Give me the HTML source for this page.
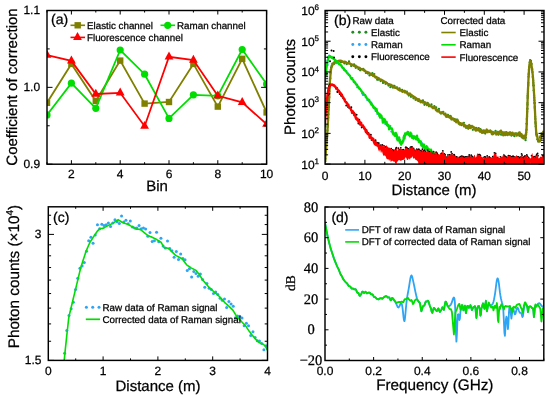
<!DOCTYPE html>
<html><head><meta charset="utf-8"><style>
html,body{margin:0;padding:0;background:#fff;width:550px;height:398px;overflow:hidden}
svg{display:block} text{text-rendering:geometricPrecision;stroke:#000;stroke-width:0.25px}
</style></head><body>
<svg width="550" height="398" viewBox="0 0 550 398">
<svg x="0" y="0" width="550" height="398" overflow="visible">
<clipPath id="ca"><rect x="47" y="10.5" width="219.60000000000002" height="153.7"/></clipPath>
<g clip-path="url(#ca)">
<polyline points="47,102.8 71.4,63.9 95.8,101 120.2,60.6 144.6,103.6 169,102 193.4,63.9 217.8,106.6 242.2,58.8 266.6,112.4" fill="none" stroke="#808000" stroke-width="1.8"/>
<rect x="43.8" y="99.6" width="6.4" height="6.4" fill="#808000"/>
<rect x="68.2" y="60.7" width="6.4" height="6.4" fill="#808000"/>
<rect x="92.6" y="97.8" width="6.4" height="6.4" fill="#808000"/>
<rect x="117" y="57.4" width="6.4" height="6.4" fill="#808000"/>
<rect x="141.4" y="100.4" width="6.4" height="6.4" fill="#808000"/>
<rect x="165.8" y="98.8" width="6.4" height="6.4" fill="#808000"/>
<rect x="190.2" y="60.7" width="6.4" height="6.4" fill="#808000"/>
<rect x="214.6" y="103.4" width="6.4" height="6.4" fill="#808000"/>
<rect x="239" y="55.6" width="6.4" height="6.4" fill="#808000"/>
<rect x="263.4" y="109.2" width="6.4" height="6.4" fill="#808000"/>
<polyline points="47,114.9 71.4,83.2 95.8,108.3 120.2,50 144.6,74.2 169,118.4 193.4,94.8 217.8,95.8 242.2,49.5 266.6,84" fill="none" stroke="#00dd00" stroke-width="1.8"/>
<circle cx="47" cy="114.9" r="3.6" fill="#00dd00"/>
<circle cx="71.4" cy="83.2" r="3.6" fill="#00dd00"/>
<circle cx="95.8" cy="108.3" r="3.6" fill="#00dd00"/>
<circle cx="120.2" cy="50" r="3.6" fill="#00dd00"/>
<circle cx="144.6" cy="74.2" r="3.6" fill="#00dd00"/>
<circle cx="169" cy="118.4" r="3.6" fill="#00dd00"/>
<circle cx="193.4" cy="94.8" r="3.6" fill="#00dd00"/>
<circle cx="217.8" cy="95.8" r="3.6" fill="#00dd00"/>
<circle cx="242.2" cy="49.5" r="3.6" fill="#00dd00"/>
<circle cx="266.6" cy="84" r="3.6" fill="#00dd00"/>
<polyline points="47,55 71.4,60.9 95.8,94 120.2,92.8 144.6,126.2 169,56.8 193.4,60 217.8,95.8 242.2,102.3 266.6,124.2" fill="none" stroke="#ff0000" stroke-width="1.8"/>
<polygon points="47,49.72 51.4,57.64 42.6,57.64" fill="#ff0000"/>
<polygon points="71.4,55.62 75.8,63.54 67,63.54" fill="#ff0000"/>
<polygon points="95.8,88.72 100.2,96.64 91.4,96.64" fill="#ff0000"/>
<polygon points="120.2,87.52 124.6,95.44 115.8,95.44" fill="#ff0000"/>
<polygon points="144.6,120.92 149,128.84 140.2,128.84" fill="#ff0000"/>
<polygon points="169,51.52 173.4,59.44 164.6,59.44" fill="#ff0000"/>
<polygon points="193.4,54.72 197.8,62.64 189,62.64" fill="#ff0000"/>
<polygon points="217.8,90.52 222.2,98.44 213.4,98.44" fill="#ff0000"/>
<polygon points="242.2,97.02 246.6,104.94 237.8,104.94" fill="#ff0000"/>
<polygon points="266.6,118.92 271,126.84 262.2,126.84" fill="#ff0000"/>
</g>
<rect x="47" y="10.5" width="219.6" height="153.7" fill="none" stroke="#000" stroke-width="1.45"/>
<line x1="71.4" y1="164.2" x2="71.4" y2="160.2" stroke="#000" stroke-width="1"/>
<line x1="71.4" y1="10.5" x2="71.4" y2="14.5" stroke="#000" stroke-width="1"/>
<line x1="120.2" y1="164.2" x2="120.2" y2="160.2" stroke="#000" stroke-width="1"/>
<line x1="120.2" y1="10.5" x2="120.2" y2="14.5" stroke="#000" stroke-width="1"/>
<line x1="169" y1="164.2" x2="169" y2="160.2" stroke="#000" stroke-width="1"/>
<line x1="169" y1="10.5" x2="169" y2="14.5" stroke="#000" stroke-width="1"/>
<line x1="217.8" y1="164.2" x2="217.8" y2="160.2" stroke="#000" stroke-width="1"/>
<line x1="217.8" y1="10.5" x2="217.8" y2="14.5" stroke="#000" stroke-width="1"/>
<line x1="266.6" y1="164.2" x2="266.6" y2="160.2" stroke="#000" stroke-width="1"/>
<line x1="266.6" y1="10.5" x2="266.6" y2="14.5" stroke="#000" stroke-width="1"/>
<line x1="47" y1="164.2" x2="47" y2="162.2" stroke="#000" stroke-width="1"/>
<line x1="47" y1="10.5" x2="47" y2="12.5" stroke="#000" stroke-width="1"/>
<line x1="95.8" y1="164.2" x2="95.8" y2="162.2" stroke="#000" stroke-width="1"/>
<line x1="95.8" y1="10.5" x2="95.8" y2="12.5" stroke="#000" stroke-width="1"/>
<line x1="144.6" y1="164.2" x2="144.6" y2="162.2" stroke="#000" stroke-width="1"/>
<line x1="144.6" y1="10.5" x2="144.6" y2="12.5" stroke="#000" stroke-width="1"/>
<line x1="193.4" y1="164.2" x2="193.4" y2="162.2" stroke="#000" stroke-width="1"/>
<line x1="193.4" y1="10.5" x2="193.4" y2="12.5" stroke="#000" stroke-width="1"/>
<line x1="242.2" y1="164.2" x2="242.2" y2="162.2" stroke="#000" stroke-width="1"/>
<line x1="242.2" y1="10.5" x2="242.2" y2="12.5" stroke="#000" stroke-width="1"/>
<line x1="47" y1="164.2" x2="52.5" y2="164.2" stroke="#000" stroke-width="1"/>
<line x1="266.6" y1="164.2" x2="261.1" y2="164.2" stroke="#000" stroke-width="1"/>
<line x1="47" y1="87.35" x2="52.5" y2="87.35" stroke="#000" stroke-width="1"/>
<line x1="266.6" y1="87.35" x2="261.1" y2="87.35" stroke="#000" stroke-width="1"/>
<line x1="47" y1="10.5" x2="52.5" y2="10.5" stroke="#000" stroke-width="1"/>
<line x1="266.6" y1="10.5" x2="261.1" y2="10.5" stroke="#000" stroke-width="1"/>
<line x1="47" y1="125.78" x2="49.7" y2="125.78" stroke="#000" stroke-width="1"/>
<line x1="266.6" y1="125.78" x2="263.9" y2="125.78" stroke="#000" stroke-width="1"/>
<line x1="47" y1="48.92" x2="49.7" y2="48.92" stroke="#000" stroke-width="1"/>
<line x1="266.6" y1="48.92" x2="263.9" y2="48.92" stroke="#000" stroke-width="1"/>
<text transform="translate(40.1 167.8) scale(1 1.0)" font-size="12" text-anchor="end" font-family="'Liberation Sans', Arial, sans-serif">0.9</text>
<text transform="translate(40.1 90.95) scale(1 1.0)" font-size="12" text-anchor="end" font-family="'Liberation Sans', Arial, sans-serif">1.0</text>
<text transform="translate(40.1 14.1) scale(1 1.0)" font-size="12" text-anchor="end" font-family="'Liberation Sans', Arial, sans-serif">1.1</text>
<text transform="translate(71.4 177.9) scale(1 1.0)" font-size="12" text-anchor="middle" font-family="'Liberation Sans', Arial, sans-serif">2</text>
<text transform="translate(120.2 177.9) scale(1 1.0)" font-size="12" text-anchor="middle" font-family="'Liberation Sans', Arial, sans-serif">4</text>
<text transform="translate(169 177.9) scale(1 1.0)" font-size="12" text-anchor="middle" font-family="'Liberation Sans', Arial, sans-serif">6</text>
<text transform="translate(217.8 177.9) scale(1 1.0)" font-size="12" text-anchor="middle" font-family="'Liberation Sans', Arial, sans-serif">8</text>
<text transform="translate(266.6 177.9) scale(1 1.0)" font-size="12" text-anchor="middle" font-family="'Liberation Sans', Arial, sans-serif">10</text>
<text transform="translate(157.1 191) scale(1 1.0)" font-size="15" text-anchor="middle" font-family="'Liberation Sans', Arial, sans-serif">Bin</text>
<text x="17.2" y="87" font-size="15" text-anchor="middle" font-family="'Liberation Sans', Arial, sans-serif" transform="rotate(-90 17.2 87)">Coefficient of correction</text>
<text transform="translate(51 24.3) scale(1 1.0)" font-size="14" text-anchor="start" font-family="'Liberation Sans', Arial, sans-serif">(a)</text>
<line x1="70.5" y1="25.3" x2="85" y2="25.3" stroke="#808000" stroke-width="1.6"/>
<rect x="74.5" y="22.1" width="6.4" height="6.4" fill="#808000"/>
<text transform="translate(87 28.8) scale(1 1.0)" font-size="9.8" text-anchor="start" font-family="'Liberation Sans', Arial, sans-serif">Elastic channel</text>
<line x1="160.5" y1="25.3" x2="175" y2="25.3" stroke="#00dd00" stroke-width="1.6"/>
<circle cx="167.7" cy="25.3" r="3.6" fill="#00dd00"/>
<text transform="translate(177 28.8) scale(1 1.0)" font-size="9.8" text-anchor="start" font-family="'Liberation Sans', Arial, sans-serif">Raman channel</text>
<line x1="70.5" y1="37.4" x2="85" y2="37.4" stroke="#ff0000" stroke-width="1.6"/>
<polygon points="77.5,32.12 81.9,40.04 73.1,40.04" fill="#ff0000"/>
<text transform="translate(87 40.9) scale(1 1.0)" font-size="9.8" text-anchor="start" font-family="'Liberation Sans', Arial, sans-serif">Fluorescence channel</text>
<clipPath id="cb"><rect x="325.1" y="10.5" width="218.89999999999998" height="153.6"/></clipPath>
<g clip-path="url(#cb)">
<circle cx="325.27" cy="161.41" r="1.15" fill="#1a8a1a"/><circle cx="325.43" cy="158.87" r="1.15" fill="#1a8a1a"/><circle cx="325.62" cy="153.65" r="1.15" fill="#1a8a1a"/><circle cx="325.75" cy="151.92" r="1.15" fill="#1a8a1a"/><circle cx="325.98" cy="151.23" r="1.15" fill="#1a8a1a"/><circle cx="326.2" cy="148.33" r="1.15" fill="#1a8a1a"/><circle cx="326.34" cy="143.51" r="1.15" fill="#1a8a1a"/><circle cx="326.51" cy="140.81" r="1.15" fill="#1a8a1a"/><circle cx="326.8" cy="137.58" r="1.15" fill="#1a8a1a"/><circle cx="326.97" cy="137.99" r="1.15" fill="#1a8a1a"/><circle cx="327.13" cy="135.94" r="1.15" fill="#1a8a1a"/><circle cx="327.38" cy="130.42" r="1.15" fill="#1a8a1a"/><circle cx="327.56" cy="126.94" r="1.15" fill="#1a8a1a"/><circle cx="327.65" cy="125.16" r="1.15" fill="#1a8a1a"/><circle cx="327.83" cy="125.17" r="1.15" fill="#1a8a1a"/><circle cx="327.96" cy="119.54" r="1.15" fill="#1a8a1a"/><circle cx="328.06" cy="120.78" r="1.15" fill="#1a8a1a"/><circle cx="328.19" cy="117.87" r="1.15" fill="#1a8a1a"/><circle cx="328.38" cy="114.3" r="1.15" fill="#1a8a1a"/><circle cx="328.47" cy="109.96" r="1.15" fill="#1a8a1a"/><circle cx="328.62" cy="107.41" r="1.15" fill="#1a8a1a"/><circle cx="328.76" cy="106.97" r="1.15" fill="#1a8a1a"/><circle cx="328.87" cy="104.72" r="1.15" fill="#1a8a1a"/><circle cx="328.96" cy="102.52" r="1.15" fill="#1a8a1a"/><circle cx="329.09" cy="96.44" r="1.15" fill="#1a8a1a"/><circle cx="329.22" cy="97.56" r="1.15" fill="#1a8a1a"/><circle cx="329.35" cy="91.14" r="1.15" fill="#1a8a1a"/><circle cx="329.45" cy="88.71" r="1.15" fill="#1a8a1a"/><circle cx="329.56" cy="86.07" r="1.15" fill="#1a8a1a"/><circle cx="329.66" cy="84.23" r="1.15" fill="#1a8a1a"/><circle cx="329.89" cy="83.28" r="1.15" fill="#1a8a1a"/><circle cx="330.03" cy="78.98" r="1.15" fill="#1a8a1a"/><circle cx="330.3" cy="78.37" r="1.15" fill="#1a8a1a"/><circle cx="330.48" cy="72.92" r="1.15" fill="#1a8a1a"/><circle cx="330.69" cy="70.11" r="1.15" fill="#1a8a1a"/><circle cx="331.07" cy="67.44" r="1.15" fill="#1a8a1a"/><circle cx="331.7" cy="65.54" r="1.15" fill="#1a8a1a"/><circle cx="332.38" cy="63.72" r="1.15" fill="#1a8a1a"/><circle cx="334.23" cy="63.76" r="1.15" fill="#1a8a1a"/><circle cx="336.04" cy="62.78" r="1.15" fill="#1a8a1a"/><circle cx="338.24" cy="62.51" r="1.15" fill="#1a8a1a"/><circle cx="341.05" cy="62.33" r="1.15" fill="#1a8a1a"/><circle cx="344.47" cy="63.42" r="1.15" fill="#1a8a1a"/><circle cx="346.69" cy="64.05" r="1.15" fill="#1a8a1a"/><circle cx="349.01" cy="61.5" r="1.15" fill="#1a8a1a"/><circle cx="351.2" cy="66.09" r="1.15" fill="#1a8a1a"/><circle cx="354.05" cy="64.45" r="1.15" fill="#1a8a1a"/><circle cx="355.76" cy="67.73" r="1.15" fill="#1a8a1a"/><circle cx="358.55" cy="69.02" r="1.15" fill="#1a8a1a"/><circle cx="360.15" cy="70.35" r="1.15" fill="#1a8a1a"/><circle cx="363.21" cy="68.96" r="1.15" fill="#1a8a1a"/><circle cx="365.92" cy="72.92" r="1.15" fill="#1a8a1a"/><circle cx="367.94" cy="73.6" r="1.15" fill="#1a8a1a"/><circle cx="369.53" cy="75.44" r="1.15" fill="#1a8a1a"/><circle cx="372.35" cy="73.25" r="1.15" fill="#1a8a1a"/><circle cx="374.27" cy="74.07" r="1.15" fill="#1a8a1a"/><circle cx="377.18" cy="79.63" r="1.15" fill="#1a8a1a"/><circle cx="378.4" cy="79.72" r="1.15" fill="#1a8a1a"/><circle cx="380.64" cy="81.12" r="1.15" fill="#1a8a1a"/><circle cx="383.01" cy="82.97" r="1.15" fill="#1a8a1a"/><circle cx="385.57" cy="83.78" r="1.15" fill="#1a8a1a"/><circle cx="388.46" cy="85.52" r="1.15" fill="#1a8a1a"/><circle cx="390.39" cy="87.21" r="1.15" fill="#1a8a1a"/><circle cx="392.83" cy="87.6" r="1.15" fill="#1a8a1a"/><circle cx="394.43" cy="85.95" r="1.15" fill="#1a8a1a"/><circle cx="396.91" cy="87.34" r="1.15" fill="#1a8a1a"/><circle cx="399.48" cy="88.49" r="1.15" fill="#1a8a1a"/><circle cx="402.13" cy="89.8" r="1.15" fill="#1a8a1a"/><circle cx="404.65" cy="90.81" r="1.15" fill="#1a8a1a"/><circle cx="406.81" cy="91.71" r="1.15" fill="#1a8a1a"/><circle cx="408.83" cy="95.6" r="1.15" fill="#1a8a1a"/><circle cx="411.01" cy="96.76" r="1.15" fill="#1a8a1a"/><circle cx="413.5" cy="98.33" r="1.15" fill="#1a8a1a"/><circle cx="415.54" cy="99.73" r="1.15" fill="#1a8a1a"/><circle cx="418.32" cy="101.05" r="1.15" fill="#1a8a1a"/><circle cx="420.72" cy="102.36" r="1.15" fill="#1a8a1a"/><circle cx="422.94" cy="100.49" r="1.15" fill="#1a8a1a"/><circle cx="424.47" cy="104.76" r="1.15" fill="#1a8a1a"/><circle cx="427.57" cy="102.93" r="1.15" fill="#1a8a1a"/><circle cx="429" cy="106.34" r="1.15" fill="#1a8a1a"/><circle cx="431.46" cy="104.39" r="1.15" fill="#1a8a1a"/><circle cx="434.33" cy="106.19" r="1.15" fill="#1a8a1a"/><circle cx="436.14" cy="107.5" r="1.15" fill="#1a8a1a"/><circle cx="438.93" cy="108.94" r="1.15" fill="#1a8a1a"/><circle cx="441" cy="113.52" r="1.15" fill="#1a8a1a"/><circle cx="443.18" cy="111.86" r="1.15" fill="#1a8a1a"/><circle cx="445.37" cy="113.54" r="1.15" fill="#1a8a1a"/><circle cx="447.95" cy="115.02" r="1.15" fill="#1a8a1a"/><circle cx="450.09" cy="115.86" r="1.15" fill="#1a8a1a"/><circle cx="451.43" cy="119.45" r="1.15" fill="#1a8a1a"/><circle cx="454.73" cy="119.05" r="1.15" fill="#1a8a1a"/><circle cx="456.38" cy="119.54" r="1.15" fill="#1a8a1a"/><circle cx="458.54" cy="123.57" r="1.15" fill="#1a8a1a"/><circle cx="461.54" cy="125.21" r="1.15" fill="#1a8a1a"/><circle cx="463.92" cy="122.84" r="1.15" fill="#1a8a1a"/><circle cx="466.08" cy="127.74" r="1.15" fill="#1a8a1a"/><circle cx="468.41" cy="128.57" r="1.15" fill="#1a8a1a"/><circle cx="470.02" cy="125.78" r="1.15" fill="#1a8a1a"/><circle cx="472.83" cy="129.83" r="1.15" fill="#1a8a1a"/><circle cx="475.99" cy="127.82" r="1.15" fill="#1a8a1a"/><circle cx="478.71" cy="128.22" r="1.15" fill="#1a8a1a"/><circle cx="480.33" cy="129.15" r="1.15" fill="#1a8a1a"/><circle cx="483.49" cy="132.48" r="1.15" fill="#1a8a1a"/><circle cx="485.21" cy="133.49" r="1.15" fill="#1a8a1a"/><circle cx="488.57" cy="130.88" r="1.15" fill="#1a8a1a"/><circle cx="490.62" cy="131.41" r="1.15" fill="#1a8a1a"/><circle cx="492.84" cy="134.31" r="1.15" fill="#1a8a1a"/><circle cx="495.56" cy="130.94" r="1.15" fill="#1a8a1a"/><circle cx="498.65" cy="134.49" r="1.15" fill="#1a8a1a"/><circle cx="501.12" cy="134.68" r="1.15" fill="#1a8a1a"/><circle cx="503.99" cy="132.49" r="1.15" fill="#1a8a1a"/><circle cx="506.15" cy="132.05" r="1.15" fill="#1a8a1a"/><circle cx="509.07" cy="134.63" r="1.15" fill="#1a8a1a"/><circle cx="511.36" cy="135.5" r="1.15" fill="#1a8a1a"/><circle cx="514.41" cy="136.21" r="1.15" fill="#1a8a1a"/><circle cx="516.02" cy="133.28" r="1.15" fill="#1a8a1a"/><circle cx="519.37" cy="135.76" r="1.15" fill="#1a8a1a"/><circle cx="521.69" cy="137.3" r="1.15" fill="#1a8a1a"/><circle cx="523.33" cy="138.31" r="1.15" fill="#1a8a1a"/><circle cx="525.56" cy="140.21" r="1.15" fill="#1a8a1a"/><circle cx="525.87" cy="137.86" r="1.15" fill="#1a8a1a"/><circle cx="526.15" cy="134.49" r="1.15" fill="#1a8a1a"/><circle cx="526.29" cy="132.85" r="1.15" fill="#1a8a1a"/><circle cx="526.51" cy="129.65" r="1.15" fill="#1a8a1a"/><circle cx="526.69" cy="123.79" r="1.15" fill="#1a8a1a"/><circle cx="526.79" cy="123.75" r="1.15" fill="#1a8a1a"/><circle cx="526.87" cy="118.82" r="1.15" fill="#1a8a1a"/><circle cx="526.95" cy="119.62" r="1.15" fill="#1a8a1a"/><circle cx="527.06" cy="116.31" r="1.15" fill="#1a8a1a"/><circle cx="527.14" cy="111.69" r="1.15" fill="#1a8a1a"/><circle cx="527.24" cy="108.59" r="1.15" fill="#1a8a1a"/><circle cx="527.34" cy="109.1" r="1.15" fill="#1a8a1a"/><circle cx="527.44" cy="103.05" r="1.15" fill="#1a8a1a"/><circle cx="527.49" cy="104.87" r="1.15" fill="#1a8a1a"/><circle cx="527.62" cy="98.12" r="1.15" fill="#1a8a1a"/><circle cx="527.73" cy="95.44" r="1.15" fill="#1a8a1a"/><circle cx="527.81" cy="96.43" r="1.15" fill="#1a8a1a"/><circle cx="527.91" cy="93.57" r="1.15" fill="#1a8a1a"/><circle cx="528.03" cy="91.16" r="1.15" fill="#1a8a1a"/><circle cx="528.1" cy="86.09" r="1.15" fill="#1a8a1a"/><circle cx="528.25" cy="84.94" r="1.15" fill="#1a8a1a"/><circle cx="528.34" cy="82.9" r="1.15" fill="#1a8a1a"/><circle cx="528.48" cy="76.85" r="1.15" fill="#1a8a1a"/><circle cx="528.65" cy="74.7" r="1.15" fill="#1a8a1a"/><circle cx="528.76" cy="73.32" r="1.15" fill="#1a8a1a"/><circle cx="528.94" cy="70.01" r="1.15" fill="#1a8a1a"/><circle cx="529.12" cy="67.47" r="1.15" fill="#1a8a1a"/><circle cx="529.37" cy="67.19" r="1.15" fill="#1a8a1a"/><circle cx="529.7" cy="62.4" r="1.15" fill="#1a8a1a"/><circle cx="530.13" cy="60.07" r="1.15" fill="#1a8a1a"/><circle cx="530.96" cy="60.98" r="1.15" fill="#1a8a1a"/><circle cx="531.56" cy="64.02" r="1.15" fill="#1a8a1a"/><circle cx="532.02" cy="69.9" r="1.15" fill="#1a8a1a"/><circle cx="532.22" cy="69.03" r="1.15" fill="#1a8a1a"/><circle cx="532.55" cy="72.15" r="1.15" fill="#1a8a1a"/><circle cx="532.76" cy="76.95" r="1.15" fill="#1a8a1a"/><circle cx="533.11" cy="80.54" r="1.15" fill="#1a8a1a"/><circle cx="533.29" cy="82.89" r="1.15" fill="#1a8a1a"/><circle cx="533.4" cy="85.15" r="1.15" fill="#1a8a1a"/><circle cx="533.62" cy="85.7" r="1.15" fill="#1a8a1a"/><circle cx="533.72" cy="90.31" r="1.15" fill="#1a8a1a"/><circle cx="533.9" cy="90.51" r="1.15" fill="#1a8a1a"/><circle cx="534.03" cy="95.32" r="1.15" fill="#1a8a1a"/><circle cx="534.19" cy="97.76" r="1.15" fill="#1a8a1a"/><circle cx="534.32" cy="100.32" r="1.15" fill="#1a8a1a"/><circle cx="534.48" cy="102.87" r="1.15" fill="#1a8a1a"/><circle cx="534.62" cy="103.21" r="1.15" fill="#1a8a1a"/><circle cx="534.72" cy="107.9" r="1.15" fill="#1a8a1a"/><circle cx="534.85" cy="106.54" r="1.15" fill="#1a8a1a"/><circle cx="534.98" cy="110.12" r="1.15" fill="#1a8a1a"/><circle cx="535.17" cy="116.83" r="1.15" fill="#1a8a1a"/><circle cx="535.27" cy="118.91" r="1.15" fill="#1a8a1a"/><circle cx="535.44" cy="122.23" r="1.15" fill="#1a8a1a"/><circle cx="535.59" cy="123.8" r="1.15" fill="#1a8a1a"/><circle cx="535.78" cy="126.51" r="1.15" fill="#1a8a1a"/><circle cx="535.95" cy="126.14" r="1.15" fill="#1a8a1a"/><circle cx="536.17" cy="132.57" r="1.15" fill="#1a8a1a"/><circle cx="536.33" cy="134.01" r="1.15" fill="#1a8a1a"/><circle cx="536.83" cy="134.53" r="1.15" fill="#1a8a1a"/><circle cx="537.28" cy="139.31" r="1.15" fill="#1a8a1a"/><circle cx="538.24" cy="141.45" r="1.15" fill="#1a8a1a"/><circle cx="539.84" cy="137.46" r="1.15" fill="#1a8a1a"/><circle cx="540.61" cy="135.95" r="1.15" fill="#1a8a1a"/><circle cx="541.5" cy="133.34" r="1.15" fill="#1a8a1a"/><circle cx="543.45" cy="134.74" r="1.15" fill="#1a8a1a"/>
<polyline points="325.2,161.2 325.45,157.64 325.7,153.75 325.95,150.16 326.2,146.72 326.45,143.64 326.7,140.37 326.95,137.14 327.2,134.07 327.45,130.76 327.7,126.3 327.95,121.32 328.2,116.48 328.45,111.49 328.7,106.91 328.95,101.61 329.2,95.95 329.45,90.01 329.7,84.26 329.95,81.18 330.2,78.13 330.45,75.27 330.7,72.32 330.95,70.08 331.2,68.6 331.45,67.48 331.7,66.98 331.95,66.45 332.2,65.62 332.45,65.17 332.7,64.02 332.95,63.7 333.2,63.48 333.45,63.59 333.7,63.58 333.95,62.9 334.2,62.26 334.45,61.96 334.7,61.87 334.95,61.73 335.2,61.36 335.45,61.27 335.7,61.26 335.95,61.3 336.2,61.27 336.45,61.39 336.7,61.25 336.95,61.29 337.2,61.39 337.45,61.48 337.7,61.15 337.95,61.06 338.2,60.89 338.45,61.21 338.7,60.87 338.95,61.14 339.2,60.97 339.45,60.93 339.7,60.69 339.95,60.71 340.2,61 340.45,60.87 340.7,60.64 340.95,60.7 341.2,60.87 341.45,61.2 341.7,61.38 341.95,61.22 342.2,61.29 342.45,61.45 342.7,61.79 342.95,61.65 343.2,61.63 343.45,61.81 343.7,62.22 343.95,62.07 344.2,61.79 344.45,61.65 344.7,61.7 344.95,62.23 345.2,62.37 345.45,62.21 345.7,61.89 345.95,62.11 346.2,62.66 346.45,62.85 346.7,62.75 346.95,62.78 347.2,63.09 347.45,63.36 347.7,63.4 347.95,63.36 348.2,63.2 348.45,63.45 348.7,63.08 348.95,63.18 349.2,63.05 349.45,63.3 349.7,63.48 349.95,63.41 350.2,64.01 350.45,64.03 350.7,64.42 350.95,64.62 351.2,64.84 351.45,64.63 351.7,64.15 351.95,64.56 352.2,64.85 352.45,65.14 352.7,64.91 352.95,65 353.2,65.46 353.45,65.55 353.7,65.71 353.95,65.48 354.2,65.69 354.45,65.58 354.7,66 354.95,66.34 355.2,66.35 355.45,65.77 355.7,65.69 355.95,66.71 356.2,67.15 356.45,66.85 356.7,66.53 356.95,66.68 357.2,66.96 357.45,66.86 357.7,67.29 357.95,67.43 358.2,67.69 358.45,67.66 358.7,67.68 358.95,67.67 359.2,67.62 359.45,67.94 359.7,67.88 359.95,67.97 360.2,68.43 360.45,68.8 360.7,69.16 360.95,69.07 361.2,69.11 361.45,69.19 361.7,69.3 361.95,69.59 362.2,69.49 362.45,69.71 362.7,69.64 362.95,69.78 363.2,69.5 363.45,69.67 363.7,70.43 363.95,70.49 364.2,70.75 364.45,69.98 364.7,70.38 364.95,70.68 365.2,71.26 365.45,71.23 365.7,71.2 365.95,71.55 366.2,71.98 366.45,72.53 366.7,72.54 366.95,72.36 367.2,71.98 367.45,72.03 367.7,72.33 367.95,72.48 368.2,72.66 368.45,72.35 368.7,72.69 368.95,72.63 369.2,72.87 369.45,72.95 369.7,73.54 369.95,74.08 370.2,74.11 370.45,73.7 370.7,74.44 370.95,74.77 371.2,74.87 371.45,74.11 371.7,74.06 371.95,74.11 372.2,74.49 372.45,74.51 372.7,75.36 372.95,75.71 373.2,75.29 373.45,75.14 373.7,74.63 373.95,75.75 374.2,75.93 374.45,76.64 374.7,76.23 374.95,76.81 375.2,77.33 375.45,77.49 375.7,77.26 375.95,76.72 376.2,77.14 376.45,76.86 376.7,77.67 376.95,77.57 377.2,77.98 377.45,77.77 377.7,78 377.95,78.17 378.2,78.04 378.45,78.32 378.7,78.23 378.95,78.41 379.2,78.54 379.45,78.91 379.7,79.19 379.95,79.32 380.2,79.75 380.45,79.78 380.7,79.96 380.95,79.72 381.2,79.81 381.45,79.64 381.7,80.09 381.95,80.07 382.2,80.34 382.45,80.44 382.7,80.99 382.95,81.22 383.2,80.71 383.45,80.86 383.7,81.17 383.95,81.47 384.2,81.71 384.45,81.58 384.7,81.8 384.95,81.75 385.2,82.03 385.45,82.53 385.7,82.2 385.95,82.89 386.2,82.8 386.45,82.96 386.7,82.76 386.95,82.97 387.2,83.62 387.45,83.49 387.7,83.71 387.95,83.83 388.2,83.85 388.45,84.2 388.7,84.13 388.95,84.24 389.2,84.21 389.45,84.6 389.7,84.92 389.95,84.79 390.2,84.97 390.45,84.66 390.7,84.73 390.95,84.69 391.2,84.93 391.45,85.36 391.7,85.45 391.95,86.22 392.2,86.08 392.45,86.04 392.7,86 392.95,85.68 393.2,86.88 393.45,86.71 393.7,87.33 393.95,86.81 394.2,87.13 394.45,86.95 394.7,87 394.95,87.39 395.2,87.9 395.45,87.76 395.7,87.78 395.95,87.77 396.2,88.1 396.45,88.15 396.7,88.34 396.95,87.92 397.2,87.92 397.45,87.99 397.7,88.82 397.95,89.06 398.2,89.67 398.45,89.54 398.7,89.7 398.95,89.36 399.2,89.64 399.45,90.22 399.7,90.49 399.95,90.24 400.2,89.77 400.45,89.83 400.7,89.91 400.95,90.11 401.2,90.28 401.45,91.04 401.7,91.11 401.95,91.41 402.2,91.38 402.45,91.4 402.7,91.85 402.95,91.48 403.2,91.44 403.45,91 403.7,91.27 403.95,91.2 404.2,91.41 404.45,91.04 404.7,92.02 404.95,92.12 405.2,92.55 405.45,91.94 405.7,91.96 405.95,92.2 406.2,92.27 406.45,92.22 406.7,92.34 406.95,92.62 407.2,93.31 407.45,93.84 407.7,94.13 407.95,94.09 408.2,93.42 408.45,93.73 408.7,93.68 408.95,94.38 409.2,94.8 409.45,94.19 409.7,94.23 409.95,93.48 410.2,94.54 410.45,94.19 410.7,94.53 410.95,94.56 411.2,95.34 411.45,95.67 411.7,95.5 411.95,95.28 412.2,95.69 412.45,96.1 412.7,95.88 412.95,96.02 413.2,96.31 413.45,97.3 413.7,97.07 413.95,97.36 414.2,96.87 414.45,97.33 414.7,97.04 414.95,97.77 415.2,98.07 415.45,98.14 415.7,98.05 415.95,97.88 416.2,98.67 416.45,99.08 416.7,98.81 416.95,98.72 417.2,98.89 417.45,100.16 417.7,99.6 417.95,99.32 418.2,99.2 418.45,99.47 418.7,99.39 418.95,99.27 419.2,100.23 419.45,100.56 419.7,100.72 419.95,100.57 420.2,101.44 420.45,101.38 420.7,101.81 420.95,101.1 421.2,101.17 421.45,100.92 421.7,101.75 421.95,102.14 422.2,102.03 422.45,102 422.7,102.19 422.95,102.54 423.2,102.34 423.45,102.13 423.7,101.7 423.95,101.98 424.2,102.25 424.45,102.67 424.7,102.99 424.95,102.55 425.2,102.78 425.45,102.48 425.7,103.79 425.95,103.54 426.2,104.04 426.45,103.79 426.7,104.62 426.95,104.97 427.2,104.4 427.45,103.57 427.7,103.55 427.95,103.6 428.2,104.43 428.45,103.85 428.7,104.79 428.95,105.34 429.2,105.63 429.45,105.7 429.7,105.56 429.95,105.9 430.2,105.71 430.45,105.72 430.7,106.12 430.95,106.34 431.2,106.41 431.45,106.68 431.7,106.47 431.95,106.84 432.2,106.78 432.45,107.7 432.7,107.56 432.95,108.19 433.2,107.86 433.45,108.13 433.7,107.39 433.95,107.69 434.2,107.93 434.45,107.92 434.7,107.43 434.95,107.36 435.2,107.66 435.45,108.64 435.7,109.52 435.95,110.25 436.2,110.12 436.45,109.6 436.7,109.44 436.95,109.79 437.2,110.91 437.45,111.38 437.7,111.1 437.95,110.45 438.2,110.08 438.45,110.03 438.7,110.1 438.95,110.51 439.2,111.66 439.45,111.9 439.7,112.5 439.95,112.62 440.2,112.78 440.45,113.03 440.7,112.78 440.95,112.74 441.2,112.37 441.45,112.26 441.7,112.48 441.95,112.45 442.2,112.65 442.45,113.06 442.7,112.94 442.95,113.03 443.2,112.42 443.45,113.01 443.7,113.41 443.95,114.22 444.2,114.38 444.45,114.52 444.7,114.34 444.95,114.28 445.2,114.4 445.45,115.21 445.7,115.61 445.95,116.57 446.2,116.28 446.45,116.67 446.7,116.31 446.95,116.45 447.2,115.87 447.45,115.04 447.7,115.31 447.95,116.23 448.2,116.96 448.45,117.12 448.7,116.67 448.95,116.93 449.2,116.15 449.45,116.55 449.7,116.48 449.95,116.94 450.2,117.87 450.45,117.45 450.7,117.72 450.95,116.5 451.2,117.66 451.45,117.89 451.7,118.8 451.95,118.73 452.2,119.35 452.45,118.69 452.7,118.35 452.95,119.08 453.2,119.23 453.45,119.29 453.7,118.69 453.95,119.7 454.2,120.3 454.45,120.82 454.7,120.19 454.95,120.63 455.2,120.71 455.45,120.64 455.7,121.01 455.95,121.86 456.2,122.33 456.45,121.83 456.7,121.59 456.95,121.41 457.2,120.68 457.45,119.67 457.7,120.18 457.95,120.9 458.2,121.82 458.45,122.3 458.7,122.14 458.95,122.25 459.2,123.06 459.45,124.22 459.7,124.52 459.95,123.86 460.2,123.9 460.45,123.19 460.7,123.63 460.95,123.3 461.2,124.32 461.45,124.32 461.7,124.02 461.95,123.71 462.2,124.16 462.45,124.27 462.7,124.1 462.95,123.37 463.2,123.33 463.45,124.11 463.7,125.14 463.95,126.26 464.2,126.07 464.45,125.61 464.7,125.49 464.95,125.19 465.2,125.73 465.45,126.2 465.7,127.05 465.95,126.56 466.2,126.26 466.45,125.9 466.7,127.05 466.95,127.22 467.2,126.59 467.45,126.07 467.7,126.9 467.95,128.11 468.2,128.4 468.45,127.66 468.7,126.56 468.95,125.44 469.2,124.95 469.45,125.84 469.7,126.86 469.95,127.8 470.2,127.78 470.45,128.14 470.7,127.79 470.95,127.7 471.2,127.73 471.45,127.52 471.7,126.69 471.95,125.9 472.2,126.43 472.45,126.35 472.7,126.74 472.95,126.62 473.2,127.44 473.45,127.01 473.7,127.02 473.95,127.5 474.2,128.82 474.45,129.28 474.7,128.88 474.95,127.99 475.2,128.22 475.45,129.88 475.7,130.53 475.95,130.43 476.2,130.49 476.45,130.38 476.7,130.17 476.95,128.74 477.2,128.59 477.45,129.81 477.7,129.89 477.95,130.2 478.2,128.62 478.45,129.41 478.7,129.9 478.95,130.51 479.2,130.86 479.45,130.83 479.7,131.21 479.95,131.72 480.2,131.8 480.45,131.5 480.7,130.43 480.95,129.72 481.2,130.14 481.45,130.35 481.7,132.07 481.95,132.76 482.2,132.86 482.45,131.49 482.7,131.47 482.95,130.74 483.2,130.73 483.45,130.44 483.7,130.94 483.95,130.98 484.2,130.43 484.45,131.21 484.7,131.55 484.95,131.95 485.2,131.97 485.45,131.97 485.7,132.35 485.95,131.79 486.2,131.15 486.45,129.86 486.7,129.49 486.95,129.95 487.2,131.31 487.45,132.2 487.7,132.23 487.95,131.3 488.2,131.03 488.45,131.17 488.7,131.45 488.95,131.08 489.2,131.1 489.45,131.89 489.7,131.59 489.95,131.75 490.2,130.34 490.45,131.49 490.7,131.31 490.95,131.37 491.2,131.35 491.45,132.57 491.7,133.62 491.95,134.14 492.2,133.28 492.45,132.25 492.7,131.96 492.95,131.82 493.2,132.17 493.45,132.33 493.7,132.68 493.95,133.14 494.2,133.2 494.45,132.68 494.7,133.25 494.95,132.43 495.2,133.11 495.45,132.32 495.7,133.48 495.95,133.37 496.2,134.58 496.45,133.52 496.7,133.2 496.95,132.95 497.2,132.08 497.45,131.82 497.7,131.94 497.95,133.46 498.2,134.44 498.45,133.83 498.7,133.9 498.95,133.13 499.2,132.66 499.45,131.62 499.7,131.73 499.95,132.14 500.2,132.66 500.45,131.28 500.7,130.63 500.95,130.7 501.2,132.51 501.45,133.2 501.7,133.06 501.95,131.87 502.2,133.11 502.45,133.03 502.7,134.92 502.95,134.69 503.2,135.33 503.45,134.27 503.7,133.59 503.95,132.92 504.2,133.3 504.45,133.24 504.7,134.02 504.95,134.33 505.2,135.13 505.45,134.7 505.7,134.73 505.95,133.55 506.2,133.3 506.45,132.52 506.7,132.43 506.95,133.29 507.2,134.01 507.45,135.05 507.7,134.58 507.95,134.27 508.2,133.4 508.45,132.86 508.7,132.94 508.95,133.33 509.2,133.34 509.45,133.4 509.7,132.45 509.95,132.88 510.2,132.35 510.45,132.96 510.7,132.59 510.95,133.38 511.2,133.94 511.45,135.04 511.7,134.71 511.95,133.89 512.2,133.21 512.45,132.64 512.7,133.5 512.95,134.29 513.2,135.04 513.45,134.6 513.7,133.91 513.95,133.9 514.2,133.55 514.45,133.84 514.7,133.87 514.95,134.3 515.2,134.04 515.45,134.04 515.7,133.92 515.95,133.74 516.2,134.03 516.45,134.53 516.7,135.7 516.95,134.89 517.2,133.96 517.45,133.62 517.7,134.54 517.95,135.03 518.2,133.92 518.45,133.46 518.7,132.99 518.95,133.53 519.2,132.54 519.45,133.25 519.7,132.43 519.95,133.34 520.2,134.28 520.45,135.3 520.7,135.92 520.95,135.06 521.2,134.91 521.45,134 521.7,134.94 521.95,135.48 522.2,137.08 522.45,136.19 522.7,136.27 522.95,135.69 523.2,137.05 523.45,138.15 523.7,137.96 523.95,136.92 524.2,135.54 524.45,136.78 524.7,137.58 524.95,138.4 525.2,138.06 525.45,137.22 525.7,135.81 525.95,133.52 526.2,132.14 526.45,130.27 526.7,124.91 526.95,118 527.2,111.76 527.45,104.66 527.7,97.69 527.95,90.41 528.2,84.9 528.45,79.12 528.7,75.36 528.95,70.9 529.2,66.99 529.45,64.35 529.7,63.25 529.95,61.78 530.2,60.93 530.45,61.28 530.7,61.71 530.95,62.45 531.2,63.17 531.45,64.95 531.7,66.6 531.95,68.58 532.2,70.5 532.45,72.7 532.7,74.49 532.95,77.16 533.2,80.18 533.45,85.2 533.7,88.43 533.95,92.11 534.2,95.58 534.45,100.54 534.7,105.47 534.95,110.33 535.2,116.06 535.45,120.67 535.7,125.1 535.95,128.28 536.2,132.44 536.45,135.65 536.7,135.8 536.95,136.33 537.2,135.92 537.45,137.54 537.7,138.34 537.95,140.1 538.2,141.24 538.45,141.07 538.7,141.13 538.95,140.9 539.2,141.35 539.45,141.47 539.7,140.77 539.95,141.47 540.2,140.24 540.45,139.54 540.7,137.2 540.95,136.7 541.2,136.27 541.45,134.83 541.7,134.86 541.95,134.47 542.2,135.32 542.45,135.12 542.7,134.34 542.95,133 543.2,131.71 543.45,132.15" fill="none" stroke="#808000" stroke-width="2.3" stroke-linejoin="round"/>
<circle cx="324.85" cy="76.68" r="1.1" fill="#2ea4f5"/><circle cx="325.88" cy="73.88" r="1.1" fill="#2ea4f5"/><circle cx="326.57" cy="73.16" r="1.1" fill="#2ea4f5"/><circle cx="326.26" cy="71.03" r="1.1" fill="#2ea4f5"/><circle cx="326.18" cy="67.35" r="1.1" fill="#2ea4f5"/><circle cx="327.64" cy="65.01" r="1.1" fill="#2ea4f5"/><circle cx="326.67" cy="63.76" r="1.1" fill="#2ea4f5"/><circle cx="327.35" cy="62.13" r="1.1" fill="#2ea4f5"/><circle cx="327.55" cy="60.7" r="1.1" fill="#2ea4f5"/><circle cx="327.69" cy="57.16" r="1.1" fill="#2ea4f5"/><circle cx="329.16" cy="55.49" r="1.1" fill="#2ea4f5"/><circle cx="330.32" cy="56.33" r="1.1" fill="#2ea4f5"/><circle cx="332.02" cy="57.91" r="1.1" fill="#2ea4f5"/><circle cx="333.58" cy="57.83" r="1.1" fill="#2ea4f5"/><circle cx="334.9" cy="60.02" r="1.1" fill="#2ea4f5"/><circle cx="336.25" cy="63.25" r="1.1" fill="#2ea4f5"/><circle cx="338.18" cy="62.5" r="1.1" fill="#2ea4f5"/><circle cx="338.89" cy="63.43" r="1.1" fill="#2ea4f5"/><circle cx="340.55" cy="64.84" r="1.1" fill="#2ea4f5"/><circle cx="342.69" cy="67.81" r="1.1" fill="#2ea4f5"/><circle cx="343.84" cy="68.72" r="1.1" fill="#2ea4f5"/><circle cx="344.37" cy="70.11" r="1.1" fill="#2ea4f5"/><circle cx="346.31" cy="70.99" r="1.1" fill="#2ea4f5"/><circle cx="348.12" cy="73.55" r="1.1" fill="#2ea4f5"/><circle cx="348.95" cy="75.19" r="1.1" fill="#2ea4f5"/><circle cx="349.99" cy="76.03" r="1.1" fill="#2ea4f5"/><circle cx="351.59" cy="79.1" r="1.1" fill="#2ea4f5"/><circle cx="352.4" cy="78.04" r="1.1" fill="#2ea4f5"/><circle cx="353.63" cy="81.84" r="1.1" fill="#2ea4f5"/><circle cx="355.25" cy="82.5" r="1.1" fill="#2ea4f5"/><circle cx="356.52" cy="84.95" r="1.1" fill="#2ea4f5"/><circle cx="357.2" cy="87.33" r="1.1" fill="#2ea4f5"/><circle cx="358.28" cy="87.04" r="1.1" fill="#2ea4f5"/><circle cx="359.79" cy="88.89" r="1.1" fill="#2ea4f5"/><circle cx="361.08" cy="90.74" r="1.1" fill="#2ea4f5"/><circle cx="362.12" cy="93.46" r="1.1" fill="#2ea4f5"/><circle cx="362.97" cy="94.94" r="1.1" fill="#2ea4f5"/><circle cx="364.86" cy="95.05" r="1.1" fill="#2ea4f5"/><circle cx="365.69" cy="97.14" r="1.1" fill="#2ea4f5"/><circle cx="367.29" cy="100.03" r="1.1" fill="#2ea4f5"/><circle cx="369.2" cy="100.59" r="1.1" fill="#2ea4f5"/><circle cx="369.22" cy="99.87" r="1.1" fill="#2ea4f5"/><circle cx="371.35" cy="102.81" r="1.1" fill="#2ea4f5"/><circle cx="371.71" cy="104.53" r="1.1" fill="#2ea4f5"/><circle cx="373.17" cy="106.92" r="1.1" fill="#2ea4f5"/><circle cx="374.99" cy="107.9" r="1.1" fill="#2ea4f5"/><circle cx="375.62" cy="110.94" r="1.1" fill="#2ea4f5"/><circle cx="376.31" cy="110.79" r="1.1" fill="#2ea4f5"/><circle cx="377.31" cy="114" r="1.1" fill="#2ea4f5"/><circle cx="379.44" cy="114.01" r="1.1" fill="#2ea4f5"/><circle cx="380.2" cy="117.39" r="1.1" fill="#2ea4f5"/><circle cx="382.15" cy="118.16" r="1.1" fill="#2ea4f5"/><circle cx="383.21" cy="120.82" r="1.1" fill="#2ea4f5"/><circle cx="383.95" cy="122.53" r="1.1" fill="#2ea4f5"/><circle cx="385.48" cy="124.22" r="1.1" fill="#2ea4f5"/><circle cx="387.05" cy="125.27" r="1.1" fill="#2ea4f5"/><circle cx="387.69" cy="124.84" r="1.1" fill="#2ea4f5"/><circle cx="388.67" cy="126.52" r="1.1" fill="#2ea4f5"/><circle cx="390.35" cy="125.99" r="1.1" fill="#2ea4f5"/><circle cx="391.32" cy="131.57" r="1.1" fill="#2ea4f5"/><circle cx="392.63" cy="132.92" r="1.1" fill="#2ea4f5"/><circle cx="394.04" cy="134.05" r="1.1" fill="#2ea4f5"/><circle cx="395.21" cy="133.66" r="1.1" fill="#2ea4f5"/><circle cx="396.72" cy="138.81" r="1.1" fill="#2ea4f5"/><circle cx="397.67" cy="137.59" r="1.1" fill="#2ea4f5"/><circle cx="398.85" cy="140.59" r="1.1" fill="#2ea4f5"/><circle cx="400.24" cy="140.06" r="1.1" fill="#2ea4f5"/><circle cx="401.41" cy="142.11" r="1.1" fill="#2ea4f5"/><circle cx="402.28" cy="142.61" r="1.1" fill="#2ea4f5"/><circle cx="403.43" cy="140.77" r="1.1" fill="#2ea4f5"/><circle cx="403.74" cy="137.24" r="1.1" fill="#2ea4f5"/><circle cx="404.55" cy="135.43" r="1.1" fill="#2ea4f5"/><circle cx="405.38" cy="135.37" r="1.1" fill="#2ea4f5"/><circle cx="408.43" cy="132.14" r="1.1" fill="#2ea4f5"/><circle cx="409.29" cy="135.21" r="1.1" fill="#2ea4f5"/><circle cx="411.45" cy="133.92" r="1.1" fill="#2ea4f5"/><circle cx="413.21" cy="136.83" r="1.1" fill="#2ea4f5"/><circle cx="414.92" cy="137.13" r="1.1" fill="#2ea4f5"/><circle cx="416.05" cy="139.11" r="1.1" fill="#2ea4f5"/><circle cx="418.45" cy="139.36" r="1.1" fill="#2ea4f5"/><circle cx="418.81" cy="140.69" r="1.1" fill="#2ea4f5"/><circle cx="420.83" cy="142.12" r="1.1" fill="#2ea4f5"/><circle cx="422.19" cy="143.4" r="1.1" fill="#2ea4f5"/><circle cx="422.99" cy="145.44" r="1.1" fill="#2ea4f5"/><circle cx="424.41" cy="146.23" r="1.1" fill="#2ea4f5"/><circle cx="425.56" cy="147.5" r="1.1" fill="#2ea4f5"/><circle cx="427.69" cy="150.2" r="1.1" fill="#2ea4f5"/><circle cx="429.87" cy="150.21" r="1.1" fill="#2ea4f5"/><circle cx="431.14" cy="152.46" r="1.1" fill="#2ea4f5"/><circle cx="433.26" cy="153.43" r="1.1" fill="#2ea4f5"/><circle cx="433.73" cy="154.18" r="1.1" fill="#2ea4f5"/><circle cx="435.88" cy="153.88" r="1.1" fill="#2ea4f5"/><circle cx="436.88" cy="156.52" r="1.1" fill="#2ea4f5"/><circle cx="439.51" cy="158.94" r="1.1" fill="#2ea4f5"/><circle cx="440.36" cy="160.21" r="1.1" fill="#2ea4f5"/><circle cx="441.46" cy="161.46" r="1.1" fill="#2ea4f5"/><circle cx="443.21" cy="163.69" r="1.1" fill="#2ea4f5"/><circle cx="444.04" cy="162.41" r="1.1" fill="#2ea4f5"/><circle cx="445.15" cy="165.63" r="1.1" fill="#2ea4f5"/><circle cx="447.26" cy="166.62" r="1.1" fill="#2ea4f5"/><circle cx="448.88" cy="166.07" r="1.1" fill="#2ea4f5"/><circle cx="450.52" cy="165.27" r="1.1" fill="#2ea4f5"/><circle cx="452.96" cy="166.78" r="1.1" fill="#2ea4f5"/><circle cx="455.03" cy="166.68" r="1.1" fill="#2ea4f5"/><circle cx="456.75" cy="168.75" r="1.1" fill="#2ea4f5"/><circle cx="459.01" cy="168.42" r="1.1" fill="#2ea4f5"/><circle cx="460.62" cy="167.02" r="1.1" fill="#2ea4f5"/><circle cx="462.99" cy="166.64" r="1.1" fill="#2ea4f5"/><circle cx="464.59" cy="166.99" r="1.1" fill="#2ea4f5"/><circle cx="467" cy="167.86" r="1.1" fill="#2ea4f5"/><circle cx="468.56" cy="167.44" r="1.1" fill="#2ea4f5"/><circle cx="471.19" cy="170.1" r="1.1" fill="#2ea4f5"/><circle cx="472.8" cy="167.44" r="1.1" fill="#2ea4f5"/><circle cx="475.6" cy="168.64" r="1.1" fill="#2ea4f5"/><circle cx="476.54" cy="168.97" r="1.1" fill="#2ea4f5"/><circle cx="478.47" cy="169.41" r="1.1" fill="#2ea4f5"/><circle cx="480.55" cy="168.39" r="1.1" fill="#2ea4f5"/><circle cx="483.8" cy="169.22" r="1.1" fill="#2ea4f5"/><circle cx="484.22" cy="169.72" r="1.1" fill="#2ea4f5"/><circle cx="486.87" cy="170.1" r="1.1" fill="#2ea4f5"/><circle cx="489.5" cy="169.47" r="1.1" fill="#2ea4f5"/><circle cx="490.71" cy="169.84" r="1.1" fill="#2ea4f5"/><circle cx="492.96" cy="170.55" r="1.1" fill="#2ea4f5"/><circle cx="495.16" cy="172.22" r="1.1" fill="#2ea4f5"/><circle cx="496.25" cy="169.63" r="1.1" fill="#2ea4f5"/><circle cx="498.36" cy="171.49" r="1.1" fill="#2ea4f5"/><circle cx="500.43" cy="172.51" r="1.1" fill="#2ea4f5"/><circle cx="503.36" cy="170.03" r="1.1" fill="#2ea4f5"/><circle cx="504.34" cy="172.7" r="1.1" fill="#2ea4f5"/><circle cx="507.34" cy="172.87" r="1.1" fill="#2ea4f5"/><circle cx="509.17" cy="171.91" r="1.1" fill="#2ea4f5"/><circle cx="510.57" cy="172.84" r="1.1" fill="#2ea4f5"/><circle cx="512.33" cy="173.52" r="1.1" fill="#2ea4f5"/><circle cx="514.51" cy="172.27" r="1.1" fill="#2ea4f5"/><circle cx="516.24" cy="172.75" r="1.1" fill="#2ea4f5"/><circle cx="519.04" cy="171.81" r="1.1" fill="#2ea4f5"/><circle cx="520.28" cy="172.33" r="1.1" fill="#2ea4f5"/><circle cx="521.52" cy="173.17" r="1.1" fill="#2ea4f5"/><circle cx="525.28" cy="173.27" r="1.1" fill="#2ea4f5"/><circle cx="526.59" cy="174.91" r="1.1" fill="#2ea4f5"/><circle cx="528.68" cy="173.53" r="1.1" fill="#2ea4f5"/><circle cx="530.65" cy="172.79" r="1.1" fill="#2ea4f5"/><circle cx="532.91" cy="174.85" r="1.1" fill="#2ea4f5"/><circle cx="534.79" cy="175.05" r="1.1" fill="#2ea4f5"/><circle cx="536.45" cy="174.83" r="1.1" fill="#2ea4f5"/><circle cx="539.15" cy="174.55" r="1.1" fill="#2ea4f5"/><circle cx="540.04" cy="174.07" r="1.1" fill="#2ea4f5"/><circle cx="543.08" cy="174.42" r="1.1" fill="#2ea4f5"/>
<polyline points="324.8,77.03 325.05,76.42 325.3,75.81 325.55,74.98 325.8,74.8 326.05,72.89 326.3,70.09 326.55,67.56 326.8,65.97 327.05,64.26 327.3,62.87 327.55,61.41 327.8,60.12 328.05,59.07 328.3,58.22 328.55,57.49 328.8,57.14 329.05,56.7 329.3,56.26 329.55,56.15 329.8,56.39 330.05,56.7 330.3,56.74 330.55,56.9 330.8,56.8 331.05,56.99 331.3,57.68 331.55,57.41 331.8,56.9 332.05,57.08 332.3,57.69 332.55,58.13 332.8,58.33 333.05,58.59 333.3,58.65 333.55,58.79 333.8,58.95 334.05,59.28 334.3,59.33 334.55,59.32 334.8,59.79 335.05,60.43 335.3,60.47 335.55,60.16 335.8,60.42 336.05,61.03 336.3,61.31 336.55,61.61 336.8,61.52 337.05,61.71 337.3,62.49 337.55,62.22 337.8,62.28 338.05,63.02 338.3,63.23 338.55,63.41 338.8,64.09 339.05,64.17 339.3,63.87 339.55,63.88 339.8,64.3 340.05,64.65 340.3,64.77 340.55,65.09 340.8,65.55 341.05,65.64 341.3,65.49 341.55,65.49 341.8,66.35 342.05,67.16 342.3,67.52 342.55,67.8 342.8,67.62 343.05,68.01 343.3,68.45 343.55,68.37 343.8,68.49 344.05,69.43 344.3,69.99 344.55,69.99 344.8,70.15 345.05,70.2 345.3,70.75 345.55,71.17 345.8,71.1 346.05,71.38 346.3,71.64 346.55,72 346.8,72.75 347.05,72.81 347.3,73.17 347.55,73.51 347.8,73.51 348.05,73.76 348.3,73.97 348.55,74.46 348.8,74.71 349.05,74.82 349.3,75.06 349.55,75.32 349.8,75.41 350.05,75.83 350.3,76.62 350.55,77.22 350.8,77.6 351.05,78.29 351.3,78.54 351.55,78.16 351.8,78.86 352.05,79.04 352.3,79.14 352.55,79.49 352.8,79.66 353.05,79.73 353.3,80.19 353.55,80.95 353.8,80.81 354.05,81.59 354.3,82.34 354.55,82.26 354.8,82.2 355.05,82.5 355.3,82.97 355.55,83.49 355.8,84.05 356.05,84.02 356.3,84 356.55,84.36 356.8,84.47 357.05,84.78 357.3,85.42 357.55,86.08 357.8,86.77 358.05,86.7 358.3,86.82 358.55,87.24 358.8,87.96 359.05,88.39 359.3,88.3 359.55,88.39 359.8,88.36 360.05,88.98 360.3,89.42 360.55,89.79 360.8,89.79 361.05,90.2 361.3,90.7 361.55,91.31 361.8,91.8 362.05,91.95 362.3,91.97 362.55,92.11 362.8,92.57 363.05,92.64 363.3,93.22 363.55,93.59 363.8,93.98 364.05,94.6 364.3,95.03 364.55,95.12 364.8,94.87 365.05,94.99 365.3,95.64 365.55,95.59 365.8,96.18 366.05,97.05 366.3,97.08 366.55,97.75 366.8,98.33 367.05,98.45 367.3,98.29 367.55,98.63 367.8,99.35 368.05,99.32 368.3,99.85 368.55,100.59 368.8,100.02 369.05,100.22 369.3,100.76 369.55,101.38 369.8,102.32 370.05,101.98 370.3,101.79 370.55,102.49 370.8,103.04 371.05,103.85 371.3,104.53 371.55,104.25 371.8,104.54 372.05,104.23 372.3,104.46 372.55,105.9 372.8,106.05 373.05,105.76 373.3,106.4 373.55,107.85 373.8,108.05 374.05,107.07 374.3,107.95 374.55,107.95 374.8,107.85 375.05,108.78 375.3,109.32 375.55,109.53 375.8,110.06 376.05,110.98 376.3,109.78 376.55,108.92 376.8,109.97 377.05,112.04 377.3,112.63 377.55,112.3 377.8,112.44 378.05,113.15 378.3,113.85 378.55,113.93 378.8,113.46 379.05,114.34 379.3,116.11 379.55,114.93 379.8,115.86 380.05,117.49 380.3,116.04 380.55,114.66 380.8,115.72 381.05,117.68 381.3,117.16 381.55,115.88 381.8,117.38 382.05,118.54 382.3,117.74 382.55,120.52 382.8,122.75 383.05,121.73 383.3,120.16 383.55,120.26 383.8,119.2 384.05,119.09 384.3,120.58 384.55,119.81 384.8,119.46 385.05,121.22 385.3,122.88 385.55,122.91 385.8,123.84 386.05,123.36 386.3,122.02 386.55,121.6 386.8,122.64 387.05,125.01 387.3,125.48 387.55,125.71 387.8,125.21 388.05,124.64 388.3,125.29 388.55,124.99 388.8,127.43 389.05,129.45 389.3,127.66 389.55,126.68 389.8,127.57 390.05,127.35 390.3,128.05 390.55,128.46 390.8,128.11 391.05,128.63 391.3,128.84 391.55,128.89 391.8,128.3 392.05,128.9 392.3,129.92 392.55,130.77 392.8,131.68 393.05,133.46 393.3,134.37 393.55,133.22 393.8,133.45 394.05,133.39 394.3,134.28 394.55,135.59 394.8,133.6 395.05,134.08 395.3,136.19 395.55,133.7 395.8,132.75 396.05,134.9 396.3,134.26 396.55,134.11 396.8,135.24 397.05,136.87 397.3,138.23 397.55,140.31 397.8,140.07 398.05,139.19 398.3,139.89 398.55,139.48 398.8,138.77 399.05,137.28 399.3,137.91 399.55,140.43 399.8,142.69 400.05,142.87 400.3,142.29 400.55,141.41 400.8,142.58 401.05,144.7 401.3,143.3 401.55,142.46 401.8,141.82 402.05,142.68 402.3,143.45 402.55,141.76 402.8,141.36 403.05,141.42 403.3,140.34 403.55,138.45 403.8,136.86 404.05,135.59 404.3,136.18 404.55,138.63 404.8,135.97 405.05,133.37 405.3,134.85 405.55,133.78 405.8,133.48 406.05,133.25 406.3,133.96 406.55,134.25 406.8,133.19 407.05,134.18 407.3,133.83 407.55,131.85 407.8,131.87 408.05,134.12 408.3,134.59 408.55,134.24 408.8,133.5 409.05,133.53 409.3,135.16 409.55,135.17 409.8,136.26 410.05,136.16 410.3,133.76 410.55,132.67 410.8,134.63 411.05,136.05 411.3,136.03 411.55,136.57 411.8,137.19 412.05,137.99 412.3,136.44 412.55,135.75 412.8,137.14 413.05,136.01 413.3,136.47 413.55,138.71 413.8,138.46 414.05,137.41 414.3,136.98 414.55,136.35 414.8,136.29 415.05,136.9 415.3,137.07 415.55,137.38 415.8,137.78 416.05,139.45 416.3,138.31 416.55,138.33 416.8,137.97 417.05,135.56 417.3,137.39 417.55,139.49 417.8,140.2 418.05,139.02 418.3,138.85 418.55,140.64 418.8,142.04 419.05,142.11 419.3,141.75 419.55,141.26 419.8,140.91 420.05,141.64 420.3,142.67 420.55,142.47 420.8,141.4 421.05,143.02 421.3,145.56 421.55,145.67 421.8,144.65 422.05,144.29 422.3,145.24 422.55,146.28 422.8,147.11 423.05,147.19 423.3,145.13 423.55,144.62 423.8,144.85 424.05,144.53 424.3,146.76 424.55,148.82 424.8,146.91 425.05,148.01 425.3,149.47 425.55,147.25 425.8,147.54 426.05,148.49 426.3,147.64 426.55,146.17 426.8,147.05 427.05,149.17 427.3,147.05 427.55,147.45 427.8,150.42 428.05,149.69 428.3,149.42 428.55,149.75 428.8,149.08 429.05,149.17 429.3,151.26 429.55,150.46 429.8,149.65 430.05,151.25 430.3,150.58 430.55,150.19 430.8,149.74 431.05,149.54 431.3,150.95 431.55,152.15 431.8,151.49 432.05,154.07 432.3,154.52 432.55,152.08 432.8,152.53 433.05,152.22 433.3,153.74 433.55,153.82 433.8,154.01 434.05,155.61 434.3,153.68 434.55,153.81 434.8,154.4 435.05,156.14 435.3,156.61 435.55,153.56 435.8,152.43 436.05,152.34 436.3,153.76 436.55,154.25 436.8,153.9 437.05,154.4 437.3,155.55 437.55,157.7 437.8,156.59 438.05,155.03 438.3,155.95 438.55,155.33 438.8,155.3 439.05,156.1 439.3,158.13 439.55,159.02 439.8,158.14 440.05,159.12 440.3,160.11 440.55,159.6 440.8,159.95 441.05,159.64 441.3,160.11 441.55,161.56 441.8,160.85 442.05,159.54 442.3,161.66 442.55,163.21 442.8,164.99 443.05,164.6 443.3,162.82 443.55,163.34 443.8,163.08 444.05,164.62 444.3,163.91 444.55,163.31 444.8,164.56 445.05,165.08 445.3,165.83 445.55,167.05 445.8,167.61 446.05,167.11 446.3,165.94 446.55,164.55 446.8,164.17 447.05,164.8 447.3,166.28 447.55,166.47 447.8,164.5 448.05,165.55 448.3,166.03 448.55,164.59 448.8,165.21 449.05,166.54 449.3,164.24 449.55,162.56 449.8,165.34 450.05,166.17 450.3,165.07 450.55,164.89 450.8,167.36 451.05,167.48 451.3,166.77 451.55,168.17 451.8,166.91 452.05,166.55 452.3,166.57 452.55,165.42 452.8,164.68 453.05,166.37 453.3,167.21 453.55,165.62 453.8,164.8 454.05,167.52 454.3,169.7 454.55,167.49 454.8,165.85 455.05,164.25 455.3,165.41 455.55,167.56 455.8,165.59 456.05,166.64 456.3,169.25 456.55,166.75 456.8,165.18 457.05,165.84 457.3,166.72 457.55,167.08 457.8,164.93 458.05,166.91 458.3,169.32 458.55,169.09 458.8,170.27 459.05,168.49 459.3,167.39 459.55,168.59 459.8,169.15 460.05,168.05 460.3,166.34 460.55,166.61 460.8,166.41 461.05,165.69 461.3,164.18 461.55,165 461.8,166.28 462.05,165.5 462.3,166.74 462.55,167.85 462.8,170.3 463.05,170.19 463.3,166.08 463.55,166.02 463.8,167.06 464.05,167.42 464.3,167.33 464.55,165.97 464.8,166.21 465.05,166.33 465.3,164.71 465.55,164.69 465.8,166.97 466.05,169.33 466.3,169.01 466.55,167.06 466.8,168.18 467.05,169.34 467.3,170.64 467.55,170.72 467.8,168.72 468.05,169.68 468.3,171.64 468.55,169.4 468.8,167.71 469.05,166.22 469.3,165.59 469.55,166.61 469.8,166.82 470.05,167.35 470.3,167.43 470.55,167.93 470.8,168.77 471.05,169.22 471.3,167.92 471.55,166.04 471.8,168.31 472.05,171.72 472.3,169.63 472.55,168.58 472.8,167.27 473.05,164.63 473.3,166.23 473.55,170.04 473.8,169.09 474.05,166.24 474.3,169.58 474.55,168.28 474.8,167.1 475.05,170.1 475.3,169.05 475.55,168.7 475.8,172.26 476.05,170.64 476.3,166.99 476.55,168.13 476.8,167.68 477.05,166.32 477.3,169.2 477.55,171.18 477.8,167.01 478.05,165.88 478.3,168.61 478.55,170.01 478.8,167.73 479.05,167.13 479.3,169.28 479.55,169.91 479.8,170.1 480.05,167.35 480.3,169.19 480.55,171.76 480.8,171.73 481.05,175.07 481.3,172.63 481.55,167.54 481.8,168.84 482.05,170.18 482.3,168.56 482.55,167.51 482.8,170.21 483.05,170.97 483.3,167.14 483.55,167.15 483.8,167.48 484.05,168.26 484.3,169.2 484.55,167.71 484.8,169.01 485.05,169.55 485.3,169.72 485.55,172.13 485.8,170.79 486.05,168.43 486.3,169.16 486.55,171.1 486.8,170.87 487.05,169.96 487.3,169.95 487.55,170.19 487.8,171.03 488.05,169.78 488.3,168.41 488.55,169.37 488.8,169.17 489.05,169.31 489.3,170.83 489.55,170.66 489.8,169.26 490.05,168.34 490.3,171.3 490.55,173.4 490.8,169.83 491.05,167.7 491.3,171.47 491.55,174.43 491.8,172.27 492.05,171.85 492.3,169.86 492.55,168.44 492.8,171.24 493.05,168.94 493.3,167.06 493.55,170.38 493.8,172.8 494.05,171.1 494.3,170.07 494.55,172.84 494.8,172.02 495.05,168.38 495.3,168.8 495.55,170 495.8,171.73 496.05,172.44 496.3,169.84 496.55,172.66 496.8,173.06 497.05,170.67 497.3,172.17 497.55,172.58 497.8,171.97 498.05,171.75 498.3,171.47 498.55,168.99 498.8,168.82 499.05,170.37 499.3,170.44 499.55,170.89 499.8,170.35 500.05,171.86 500.3,174.62 500.55,170.24 500.8,168.31 501.05,170.2 501.3,166.95 501.55,168.38 501.8,170.88 502.05,169.93 502.3,169.91 502.55,171.76 502.8,174.15 503.05,173.16 503.3,172.5 503.55,172.03 503.8,171.36 504.05,170.6 504.3,170.49 504.55,170.55 504.8,171 505.05,172.95 505.3,172.89 505.55,173.36 505.8,176.36 506.05,172.27 506.3,168.94 506.55,170.89 506.8,170.32 507.05,169.36 507.3,170.02 507.55,171.42 507.8,170.58 508.05,170.61 508.3,170.69 508.55,168.1 508.8,170.21 509.05,172.78 509.3,170.27 509.55,171.06 509.8,171.44 510.05,168.36 510.3,170.32 510.55,170.97 510.8,169.61 511.05,171.88 511.3,173.86 511.55,175.22 511.8,173.76 512.05,171.34 512.3,170.64 512.55,172.98 512.8,175.75 513.05,175.1 513.3,172.08 513.55,172.71 513.8,173.07 514.05,171.3 514.3,171.44 514.55,172.71 514.8,173.43 515.05,173.95 515.3,175.25 515.55,174.68 515.8,170.16 516.05,167.42 516.3,170.56 516.55,172.62 516.8,175.15 517.05,175.21 517.3,172.35 517.55,173.59 517.8,175.13 518.05,173.68 518.3,172.96 518.55,171.86 518.8,170.12 519.05,173.1 519.3,172.54 519.55,172.18 519.8,174.81 520.05,174.64 520.3,174.95 520.55,174.72 520.8,170.93 521.05,168.99 521.3,170.94 521.55,173.36 521.8,172.72 522.05,170.72 522.3,171.7 522.55,174.25 522.8,172.93 523.05,169.61 523.3,172.22 523.55,171.28 523.8,170.93 524.05,173.04 524.3,170.68 524.55,170.75 524.8,171.49 525.05,172.25 525.3,173.98 525.55,175.65 525.8,175.2 526.05,173.49 526.3,172.81 526.55,172.68 526.8,174.73 527.05,172.38 527.3,171.91 527.55,173.67 527.8,172.97 528.05,174.06 528.3,175.06 528.55,174.97 528.8,173.44 529.05,173.56 529.3,174.09 529.55,173.46 529.8,173.73 530.05,175.1 530.3,175.04 530.55,174.16 530.8,172.4 531.05,172.07 531.3,171.38 531.55,172.47 531.8,173.64 532.05,174.38 532.3,179.32 532.55,177.23 532.8,175.17 533.05,176.19 533.3,173.86 533.55,172.33 533.8,173.75 534.05,176.57 534.3,176.33 534.55,172.72 534.8,171 535.05,172.62 535.3,175.65 535.55,176.31 535.8,175.04 536.05,176.23 536.3,175.58 536.55,173.98 536.8,174.03 537.05,171.95 537.3,172.78 537.55,175.54 537.8,176.2 538.05,174.22 538.3,172.01 538.55,174.68 538.8,176.13 539.05,176.7 539.3,175.24 539.55,173.8 539.8,174.06 540.05,174.21 540.3,174.48 540.55,174.78 540.8,176.76 541.05,176.96 541.3,173.37 541.55,173.73 541.8,176.57 542.05,174.11 542.3,172.47 542.55,173.81 542.8,175.65 543.05,175.1 543.3,172.38 543.55,173.32" fill="none" stroke="#00dd00" stroke-width="2.2" stroke-linejoin="round"/>
<circle cx="324.46" cy="126.27" r="1.05" fill="#000"/><circle cx="324.96" cy="123.8" r="1.05" fill="#000"/><circle cx="324.13" cy="121.77" r="1.05" fill="#000"/><circle cx="324.51" cy="121.08" r="1.05" fill="#000"/><circle cx="324.49" cy="116.82" r="1.05" fill="#000"/><circle cx="325.72" cy="115.14" r="1.05" fill="#000"/><circle cx="325.41" cy="111.74" r="1.05" fill="#000"/><circle cx="326.37" cy="109.28" r="1.05" fill="#000"/><circle cx="326.17" cy="108.17" r="1.05" fill="#000"/><circle cx="326.57" cy="109.23" r="1.05" fill="#000"/><circle cx="326.41" cy="104.86" r="1.05" fill="#000"/><circle cx="327.04" cy="105.02" r="1.05" fill="#000"/><circle cx="326.78" cy="101.21" r="1.05" fill="#000"/><circle cx="326.59" cy="98.6" r="1.05" fill="#000"/><circle cx="327.93" cy="95.23" r="1.05" fill="#000"/><circle cx="328.19" cy="93.69" r="1.05" fill="#000"/><circle cx="329.25" cy="93.72" r="1.05" fill="#000"/><circle cx="328.54" cy="90.64" r="1.05" fill="#000"/><circle cx="329" cy="86.26" r="1.05" fill="#000"/><circle cx="329.78" cy="84.51" r="1.05" fill="#000"/><circle cx="329.65" cy="86.4" r="1.05" fill="#000"/><circle cx="333.53" cy="85.24" r="1.05" fill="#000"/><circle cx="335.97" cy="88.53" r="1.05" fill="#000"/><circle cx="336.91" cy="88.08" r="1.05" fill="#000"/><circle cx="337.43" cy="91.89" r="1.05" fill="#000"/><circle cx="339.79" cy="94.01" r="1.05" fill="#000"/><circle cx="340.99" cy="95.62" r="1.05" fill="#000"/><circle cx="342" cy="96.13" r="1.05" fill="#000"/><circle cx="343.31" cy="98.24" r="1.05" fill="#000"/><circle cx="344.67" cy="99.96" r="1.05" fill="#000"/><circle cx="346.17" cy="102.01" r="1.05" fill="#000"/><circle cx="346.3" cy="105.48" r="1.05" fill="#000"/><circle cx="348.14" cy="106.98" r="1.05" fill="#000"/><circle cx="349.39" cy="108.03" r="1.05" fill="#000"/><circle cx="351.25" cy="107.35" r="1.05" fill="#000"/><circle cx="351.18" cy="109.9" r="1.05" fill="#000"/><circle cx="353.75" cy="112.73" r="1.05" fill="#000"/><circle cx="354.64" cy="114.55" r="1.05" fill="#000"/><circle cx="356.54" cy="114.78" r="1.05" fill="#000"/><circle cx="356.37" cy="118.96" r="1.05" fill="#000"/><circle cx="358.51" cy="123.52" r="1.05" fill="#000"/><circle cx="359.17" cy="119.87" r="1.05" fill="#000"/><circle cx="360.12" cy="124.01" r="1.05" fill="#000"/><circle cx="361.79" cy="127.34" r="1.05" fill="#000"/><circle cx="363.28" cy="126.73" r="1.05" fill="#000"/><circle cx="364.3" cy="128.39" r="1.05" fill="#000"/><circle cx="365.8" cy="130.92" r="1.05" fill="#000"/><circle cx="366.53" cy="132.82" r="1.05" fill="#000"/><circle cx="368.19" cy="133.06" r="1.05" fill="#000"/><circle cx="370.12" cy="136.96" r="1.05" fill="#000"/><circle cx="370.76" cy="134.87" r="1.05" fill="#000"/><circle cx="371.69" cy="140.04" r="1.05" fill="#000"/><circle cx="374.72" cy="141.98" r="1.05" fill="#000"/><circle cx="374.84" cy="142.46" r="1.05" fill="#000"/>
<circle cx="373.6" cy="141.08" r="0.9" fill="#000"/><circle cx="375.2" cy="140.82" r="0.9" fill="#000"/><circle cx="375.6" cy="140.14" r="0.9" fill="#000"/><circle cx="376.8" cy="142.63" r="0.9" fill="#000"/><circle cx="377.6" cy="142.82" r="0.9" fill="#000"/><circle cx="378" cy="143.43" r="0.9" fill="#000"/><circle cx="378.8" cy="143.1" r="0.9" fill="#000"/><circle cx="380.8" cy="145.22" r="0.9" fill="#000"/><circle cx="382.4" cy="145.02" r="0.9" fill="#000"/><circle cx="384" cy="145.81" r="0.9" fill="#000"/><circle cx="385.2" cy="147.49" r="0.9" fill="#000"/><circle cx="386" cy="146.67" r="0.9" fill="#000"/><circle cx="391.2" cy="148.67" r="0.9" fill="#000"/><circle cx="392.8" cy="149.81" r="0.9" fill="#000"/><circle cx="393.2" cy="150.76" r="0.9" fill="#000"/><circle cx="393.6" cy="151.71" r="0.9" fill="#000"/><circle cx="395.6" cy="149.85" r="0.9" fill="#000"/><circle cx="396" cy="148.34" r="0.9" fill="#000"/><circle cx="396.4" cy="147.64" r="0.9" fill="#000"/><circle cx="398.4" cy="148.27" r="0.9" fill="#000"/><circle cx="400" cy="149.62" r="0.9" fill="#000"/><circle cx="400.8" cy="147.79" r="0.9" fill="#000"/><circle cx="402" cy="149.95" r="0.9" fill="#000"/><circle cx="403.2" cy="149.7" r="0.9" fill="#000"/><circle cx="403.6" cy="149.91" r="0.9" fill="#000"/><circle cx="405.6" cy="147.42" r="0.9" fill="#000"/><circle cx="406" cy="147.46" r="0.9" fill="#000"/><circle cx="406.4" cy="147.6" r="0.9" fill="#000"/><circle cx="406.8" cy="147.84" r="0.9" fill="#000"/><circle cx="407.6" cy="148.55" r="0.9" fill="#000"/><circle cx="408.4" cy="148.97" r="0.9" fill="#000"/><circle cx="410.4" cy="147.28" r="0.9" fill="#000"/><circle cx="410.8" cy="147.38" r="0.9" fill="#000"/><circle cx="411.2" cy="147.38" r="0.9" fill="#000"/><circle cx="411.6" cy="147.37" r="0.9" fill="#000"/><circle cx="412" cy="146.83" r="0.9" fill="#000"/><circle cx="413.6" cy="148.46" r="0.9" fill="#000"/><circle cx="414.8" cy="150.15" r="0.9" fill="#000"/><circle cx="415.2" cy="151.33" r="0.9" fill="#000"/><circle cx="416.8" cy="149.24" r="0.9" fill="#000"/><circle cx="417.6" cy="150.11" r="0.9" fill="#000"/><circle cx="418.8" cy="149.24" r="0.9" fill="#000"/><circle cx="419.6" cy="150.09" r="0.9" fill="#000"/><circle cx="420.8" cy="150.9" r="0.9" fill="#000"/><circle cx="421.2" cy="151.27" r="0.9" fill="#000"/><circle cx="422.4" cy="149.25" r="0.9" fill="#000"/><circle cx="423.2" cy="151.88" r="0.9" fill="#000"/><circle cx="424" cy="150.73" r="0.9" fill="#000"/><circle cx="424.4" cy="150.44" r="0.9" fill="#000"/><circle cx="425.6" cy="151.44" r="0.9" fill="#000"/><circle cx="427.6" cy="150.19" r="0.9" fill="#000"/><circle cx="428.8" cy="151.78" r="0.9" fill="#000"/><circle cx="429.2" cy="151.78" r="0.9" fill="#000"/><circle cx="429.6" cy="151.78" r="0.9" fill="#000"/><circle cx="432.4" cy="153.47" r="0.9" fill="#000"/><circle cx="433.6" cy="151.53" r="0.9" fill="#000"/><circle cx="434.8" cy="154.31" r="0.9" fill="#000"/><circle cx="436.4" cy="152.39" r="0.9" fill="#000"/><circle cx="437.2" cy="153.52" r="0.9" fill="#000"/><circle cx="437.6" cy="155.09" r="0.9" fill="#000"/><circle cx="441.2" cy="153.74" r="0.9" fill="#000"/><circle cx="441.6" cy="153.34" r="0.9" fill="#000"/><circle cx="442.8" cy="150.87" r="0.9" fill="#000"/><circle cx="444.4" cy="153.93" r="0.9" fill="#000"/><circle cx="445.2" cy="154.92" r="0.9" fill="#000"/><circle cx="446.8" cy="157.17" r="0.9" fill="#000"/><circle cx="448" cy="154.96" r="0.9" fill="#000"/><circle cx="449.6" cy="154.79" r="0.9" fill="#000"/><circle cx="450" cy="155.07" r="0.9" fill="#000"/><circle cx="451.2" cy="151.97" r="0.9" fill="#000"/><circle cx="452" cy="153.76" r="0.9" fill="#000"/><circle cx="454" cy="154.63" r="0.9" fill="#000"/><circle cx="454.4" cy="155.25" r="0.9" fill="#000"/><circle cx="456.4" cy="156.94" r="0.9" fill="#000"/><circle cx="456.8" cy="157.19" r="0.9" fill="#000"/><circle cx="459.6" cy="157.38" r="0.9" fill="#000"/><circle cx="460.4" cy="156.84" r="0.9" fill="#000"/><circle cx="461.2" cy="156.36" r="0.9" fill="#000"/><circle cx="461.6" cy="156.33" r="0.9" fill="#000"/><circle cx="462.4" cy="156.29" r="0.9" fill="#000"/><circle cx="463.2" cy="156.72" r="0.9" fill="#000"/><circle cx="463.6" cy="157.3" r="0.9" fill="#000"/><circle cx="464" cy="157.53" r="0.9" fill="#000"/><circle cx="464.8" cy="157.23" r="0.9" fill="#000"/><circle cx="465.6" cy="156.82" r="0.9" fill="#000"/><circle cx="466.8" cy="156.81" r="0.9" fill="#000"/><circle cx="468" cy="156.6" r="0.9" fill="#000"/><circle cx="469.2" cy="154.88" r="0.9" fill="#000"/><circle cx="469.6" cy="156.23" r="0.9" fill="#000"/><circle cx="470" cy="157.58" r="0.9" fill="#000"/><circle cx="471.2" cy="155.11" r="0.9" fill="#000"/><circle cx="471.6" cy="155.99" r="0.9" fill="#000"/><circle cx="472" cy="156.7" r="0.9" fill="#000"/><circle cx="472.8" cy="157.11" r="0.9" fill="#000"/><circle cx="478.8" cy="154.59" r="0.9" fill="#000"/><circle cx="479.6" cy="154.75" r="0.9" fill="#000"/><circle cx="480.4" cy="155.5" r="0.9" fill="#000"/><circle cx="484" cy="157.86" r="0.9" fill="#000"/><circle cx="484.4" cy="156.86" r="0.9" fill="#000"/><circle cx="485.2" cy="157.05" r="0.9" fill="#000"/><circle cx="485.6" cy="157.29" r="0.9" fill="#000"/><circle cx="487.2" cy="155.97" r="0.9" fill="#000"/><circle cx="489.2" cy="156.92" r="0.9" fill="#000"/><circle cx="490" cy="157.74" r="0.9" fill="#000"/><circle cx="492.8" cy="156.76" r="0.9" fill="#000"/><circle cx="494.4" cy="152.83" r="0.9" fill="#000"/><circle cx="495.6" cy="153.49" r="0.9" fill="#000"/><circle cx="497.2" cy="157.71" r="0.9" fill="#000"/><circle cx="500.4" cy="156.87" r="0.9" fill="#000"/><circle cx="504" cy="155.14" r="0.9" fill="#000"/><circle cx="504.8" cy="156.39" r="0.9" fill="#000"/><circle cx="505.2" cy="156.51" r="0.9" fill="#000"/><circle cx="505.6" cy="156.83" r="0.9" fill="#000"/><circle cx="506.4" cy="157.31" r="0.9" fill="#000"/><circle cx="506.8" cy="157.39" r="0.9" fill="#000"/><circle cx="508.4" cy="155.77" r="0.9" fill="#000"/><circle cx="508.8" cy="155.78" r="0.9" fill="#000"/><circle cx="510" cy="155.95" r="0.9" fill="#000"/><circle cx="511.2" cy="156.79" r="0.9" fill="#000"/><circle cx="512" cy="156.75" r="0.9" fill="#000"/><circle cx="512.8" cy="156.51" r="0.9" fill="#000"/><circle cx="513.2" cy="156.46" r="0.9" fill="#000"/><circle cx="513.6" cy="156.6" r="0.9" fill="#000"/><circle cx="514" cy="156.79" r="0.9" fill="#000"/><circle cx="517.6" cy="156.95" r="0.9" fill="#000"/><circle cx="518.4" cy="156.89" r="0.9" fill="#000"/><circle cx="519.2" cy="157.73" r="0.9" fill="#000"/><circle cx="519.6" cy="158.71" r="0.9" fill="#000"/><circle cx="520.4" cy="157.06" r="0.9" fill="#000"/><circle cx="521.6" cy="153.97" r="0.9" fill="#000"/><circle cx="522" cy="155.21" r="0.9" fill="#000"/><circle cx="522.8" cy="157.43" r="0.9" fill="#000"/><circle cx="523.2" cy="158.46" r="0.9" fill="#000"/><circle cx="524" cy="156.84" r="0.9" fill="#000"/><circle cx="524.8" cy="156.26" r="0.9" fill="#000"/><circle cx="525.2" cy="156.05" r="0.9" fill="#000"/><circle cx="526.8" cy="154.97" r="0.9" fill="#000"/><circle cx="527.2" cy="156.2" r="0.9" fill="#000"/><circle cx="528.4" cy="157.47" r="0.9" fill="#000"/><circle cx="531.6" cy="155.65" r="0.9" fill="#000"/><circle cx="533.2" cy="157.43" r="0.9" fill="#000"/><circle cx="533.6" cy="157.14" r="0.9" fill="#000"/><circle cx="534.8" cy="156.58" r="0.9" fill="#000"/><circle cx="535.6" cy="157.3" r="0.9" fill="#000"/><circle cx="536.4" cy="155.43" r="0.9" fill="#000"/><circle cx="536.8" cy="154.29" r="0.9" fill="#000"/><circle cx="537.6" cy="153.45" r="0.9" fill="#000"/><circle cx="538" cy="155.65" r="0.9" fill="#000"/><circle cx="542.8" cy="155.65" r="0.9" fill="#000"/><circle cx="543.2" cy="155.67" r="0.9" fill="#000"/><circle cx="543.6" cy="156.45" r="0.9" fill="#000"/>
<polygon points="372,137.38 372.4,138.07 372.8,138.75 373.2,139.93 373.6,141.28 374,141.93 374.4,141.89 374.8,141.69 375.2,141.02 375.6,140.34 376,141.59 376.4,142.62 376.8,142.83 377.2,142.76 377.6,143.02 378,143.63 378.4,143.93 378.8,143.3 379.2,142.67 379.6,143.81 380,144.94 380.4,145.29 380.8,145.42 381.2,145.17 381.6,144.54 382,144.3 382.4,145.22 382.8,146.14 383.2,146.37 383.6,146.59 384,146.01 384.4,145.16 384.8,145.71 385.2,147.69 385.6,148.73 386,146.87 386.4,145.01 386.8,145.63 387.2,146.26 387.6,146.79 388,147.29 388.4,147.5 388.8,147.41 389.2,147.41 389.6,147.69 390,147.98 390.4,148.15 390.8,148.31 391.2,148.87 391.6,149.57 392,149.88 392.4,149.81 392.8,150.01 393.2,150.96 393.6,151.91 394,150.47 394.4,149.03 394.8,149.47 395.2,150.41 395.6,150.05 396,148.54 396.4,147.84 396.8,149.55 397.2,151.27 397.6,149.77 398,148.26 398.4,148.47 398.8,149.25 399.2,149.73 399.6,149.92 400,149.82 400.4,148.91 400.8,147.99 401.2,149.11 401.6,150.23 402,150.15 402.4,149.67 402.8,149.58 403.2,149.9 403.6,150.11 404,150 404.4,149.89 404.8,148.85 405.2,147.84 405.6,147.62 406,147.66 406.4,147.8 406.8,148.04 407.2,148.33 407.6,148.75 408,149.16 408.4,149.17 408.8,149.17 409.2,148.56 409.6,147.75 410,147.34 410.4,147.48 410.8,147.58 411.2,147.58 411.6,147.57 412,147.03 412.4,146.48 412.8,147.09 413.2,148.09 413.6,148.66 414,148.8 414.4,149.19 414.8,150.35 415.2,151.53 415.6,150.41 416,149.3 416.4,149.2 416.8,149.44 417.2,149.81 417.6,150.31 418,150.55 418.4,150 418.8,149.44 419.2,149.87 419.6,150.29 420,150.63 420.4,150.82 420.8,151.1 421.2,151.47 421.6,151.5 422,150.47 422.4,149.45 422.8,150.77 423.2,152.08 423.6,151.78 424,150.93 424.4,150.64 424.8,150.9 425.2,151.22 425.6,151.64 426,152.07 426.4,152.08 426.8,152.08 427.2,151.36 427.6,150.39 428,150.36 428.4,151.29 428.8,151.98 429.2,151.98 429.6,151.98 430,152.24 430.4,152.49 430.8,151.55 431.2,150.22 431.6,150.52 432,152.45 432.4,153.67 432.8,152.78 433.2,151.89 433.6,151.73 434,151.57 434.4,152.81 434.8,154.51 435.2,154.87 435.6,153.87 436,153.02 436.4,152.59 436.8,152.16 437.2,153.72 437.6,155.29 438,154.94 438.4,153.95 438.8,153.84 439.2,154.6 439.6,154.96 440,154.11 440.4,153.25 440.8,153.59 441.2,153.94 441.6,153.54 442,152.89 442.4,152.07 442.8,151.07 443.2,150.68 443.6,152.15 444,153.63 444.4,154.13 444.8,154.62 445.2,155.12 445.6,155.6 446,156.28 446.4,157.13 446.8,157.37 447.2,155.74 447.6,154.1 448,155.16 448.4,156.22 448.8,155.94 449.2,155.21 449.6,154.99 450,155.27 450.4,155.1 450.8,153.63 451.2,152.17 451.6,153.06 452,153.96 452.4,154.47 452.8,154.85 453.2,154.96 453.6,154.8 454,154.83 454.4,155.45 454.8,156.08 455.2,155.77 455.6,155.47 456,156.14 456.4,157.14 456.8,157.39 457.2,156.89 457.6,156.53 458,156.58 458.4,156.62 458.8,157.14 459.2,157.65 459.6,157.58 460,157.32 460.4,157.04 460.8,156.77 461.2,156.56 461.6,156.53 462,156.51 462.4,156.49 462.8,156.48 463.2,156.92 463.6,157.5 464,157.73 464.4,157.58 464.8,157.43 465.2,157.23 465.6,157.02 466,157.24 466.4,157.45 466.8,157.01 467.2,156.36 467.6,156.29 468,156.8 468.4,156.96 468.8,156.02 469.2,155.08 469.6,156.43 470,157.78 470.4,157.04 470.8,155.59 471.2,155.31 471.6,156.19 472,156.9 472.4,157.1 472.8,157.31 473.2,157.01 473.6,156.71 474,155.79 474.4,154.66 474.8,154.96 475.2,156.68 475.6,157.83 476,157.31 476.4,156.79 476.8,155.06 477.2,153.33 477.6,153.52 478,154.36 478.4,154.78 478.8,154.79 479.2,154.82 479.6,154.95 480,155.07 480.4,155.7 480.8,156.33 481.2,156.57 481.6,156.67 482,156.85 482.4,157.09 482.8,157.47 483.2,158.26 483.6,159.05 484,158.06 484.4,157.06 484.8,157 485.2,157.25 485.6,157.49 486,157.72 486.4,157.7 486.8,156.94 487.2,156.17 487.6,156.34 488,156.51 488.4,156.66 488.8,156.79 489.2,157.12 489.6,157.65 490,157.94 490.4,157.47 490.8,157.01 491.2,157.25 491.6,157.48 492,157.49 492.4,157.42 492.8,156.96 493.2,156.11 493.6,155.2 494,154.12 494.4,153.03 494.8,153.38 495.2,153.73 495.6,153.69 496,153.52 496.4,154.5 496.8,156.62 497.2,157.91 497.6,156.71 498,155.52 498.4,156.66 498.8,157.81 499.2,158.01 499.6,157.9 500,157.59 500.4,157.07 500.8,156.69 501.2,156.72 501.6,156.74 502,156.79 502.4,156.83 502.8,155.61 503.2,153.96 503.6,153.87 504,155.34 504.4,156.48 504.8,156.59 505.2,156.71 505.6,157.03 506,157.36 506.4,157.51 506.8,157.59 507.2,157.27 507.6,156.52 508,155.96 508.4,155.97 508.8,155.98 509.2,155.96 509.6,155.93 510,156.15 510.4,156.45 510.8,156.73 511.2,156.99 511.6,157.14 512,156.95 512.4,156.76 512.8,156.71 513.2,156.66 513.6,156.8 514,156.99 514.4,156.89 514.8,156.49 515.2,156.18 515.6,156.13 516,156.08 516.4,155.45 516.8,154.83 517.2,155.73 517.6,157.15 518,157.61 518.4,157.09 518.8,156.94 519.2,157.93 519.6,158.91 520,158.08 520.4,157.26 520.8,155.88 521.2,154.33 521.6,154.17 522,155.41 522.4,156.6 522.8,157.63 523.2,158.66 523.6,157.85 524,157.04 524.4,156.68 524.8,156.46 525.2,156.25 525.6,156.03 526,155.8 526.4,155.48 526.8,155.17 527.2,156.4 527.6,157.64 528,157.83 528.4,157.67 528.8,157.53 529.2,157.41 529.6,157.44 530,157.94 530.4,158.44 530.8,158.14 531.2,157.83 531.6,155.85 532,153.3 532.4,153.28 532.8,155.81 533.2,157.63 533.6,157.34 534,157.05 534.4,156.92 534.8,156.78 535.2,157.07 535.6,157.5 536,157.02 536.4,155.63 536.8,154.49 537.2,154.07 537.6,153.65 538,155.85 538.4,158.05 538.8,158.41 539.2,158.15 539.6,157.74 540,157.18 540.4,156.72 540.8,156.6 541.2,156.48 541.6,156.78 542,157.07 542.4,156.59 542.8,155.85 543.2,155.87 543.6,156.65 543.6,165.38 543.2,166.24 542.8,166.69 542.4,166.76 542,166.68 541.6,166.14 541.2,165.61 540.8,165.95 540.4,166.28 540,166.32 539.6,166.25 539.2,165.87 538.8,165.18 538.4,164.57 538,164.16 537.6,163.75 537.2,165.4 536.8,167.06 536.4,167.13 536,166.66 535.6,165.88 535.2,164.8 534.8,164.32 534.4,165.64 534,166.97 533.6,166.2 533.2,165.43 532.8,165.64 532.4,166.16 532,166.41 531.6,166.38 531.2,165.94 530.8,164.28 530.4,162.61 530,164.77 529.6,166.93 529.2,166.96 528.8,166.29 528.4,166 528,166.08 527.6,166.48 527.2,167.87 526.8,169.26 526.4,167.25 526,165.24 525.6,165 525.2,165.35 524.8,165.55 524.4,165.6 524,165.63 523.6,165.59 523.2,165.54 522.8,166.28 522.4,167.02 522,166.79 521.6,166.23 521.2,166 520.8,166.1 520.4,166.3 520,166.76 519.6,167.23 519.2,165.86 518.8,164.5 518.4,164.71 518,165.45 517.6,165.88 517.2,166.01 516.8,166.21 516.4,166.65 516,167.1 515.6,167.31 515.2,167.53 514.8,166.69 514.4,165.5 514,165.35 513.6,166.25 513.2,166.76 512.8,166.08 512.4,165.4 512,166.34 511.6,167.28 511.2,167.8 510.8,168.18 510.4,167.89 510,166.92 509.6,166.26 509.2,166.53 508.8,166.79 508.4,166.72 508,166.65 507.6,167.13 507.2,167.8 506.8,167.81 506.4,167.18 506,166.67 505.6,166.55 505.2,166.42 504.8,166.96 504.4,167.5 504,167.01 503.6,166.19 503.2,165.51 502.8,164.99 502.4,164.92 502,166.21 501.6,167.5 501.2,167 500.8,166.5 500.4,166.27 500,166.12 499.6,165.95 499.2,165.75 498.8,165.53 498.4,165.29 498,165.04 497.6,165.38 497.2,165.72 496.8,165.88 496.4,165.97 496,166.42 495.6,167.22 495.2,167.51 494.8,166.25 494.4,165 494,165.53 493.6,166.06 493.2,166.44 492.8,166.78 492.4,166.58 492,165.86 491.6,165.46 491.2,166.06 490.8,166.67 490.4,166.1 490,165.53 489.6,165.89 489.2,166.55 488.8,166.69 488.4,166.32 488,165.95 487.6,165.59 487.2,165.23 486.8,166.43 486.4,167.63 486,167.23 485.6,166.29 485.2,165.54 484.8,164.97 484.4,164.81 484,165.85 483.6,166.89 483.2,166.14 482.8,165.38 482.4,165.15 482,165.09 481.6,164.99 481.2,164.86 480.8,164.93 480.4,165.62 480,166.3 479.6,165.33 479.2,164.37 478.8,165.19 478.4,166.62 478,166.62 477.6,165.21 477.2,164.36 476.8,165.2 476.4,166.03 476,166.1 475.6,166.17 475.2,165.72 474.8,165.1 474.4,165.04 474,165.53 473.6,165.97 473.2,166.23 472.8,166.49 472.4,166.06 472,165.62 471.6,166.16 471.2,167.02 470.8,167.35 470.4,167.15 470,166.83 469.6,166.11 469.2,165.4 468.8,165.08 468.4,164.75 468,164.83 467.6,165.03 467.2,165.75 466.8,166.99 466.4,167.4 466,165.3 465.6,163.2 465.2,164.48 464.8,165.76 464.4,165.91 464,165.67 463.6,165.59 463.2,165.66 462.8,165.9 462.4,166.67 462,167.45 461.6,167.49 461.2,167.53 460.8,168.02 460.4,168.66 460,168.48 459.6,167.47 459.2,166.72 458.8,166.7 458.4,166.69 458,165.95 457.6,165.21 457.2,164.95 456.8,164.86 456.4,165.04 456,165.5 455.6,165.68 455.2,165.06 454.8,164.44 454.4,165.61 454,166.79 453.6,166.74 453.2,166.27 452.8,165.8 452.4,165.34 452,165.31 451.6,166.61 451.2,167.9 450.8,167.16 450.4,166.43 450,166.23 449.6,166.22 449.2,165.86 448.8,165.16 448.4,164.89 448,165.88 447.6,166.88 447.2,165.9 446.8,164.92 446.4,165.65 446,166.94 445.6,167.33 445.2,166.8 444.8,166.2 444.4,165.38 444,164.55 443.6,165.51 443.2,166.47 442.8,166.33 442.4,165.82 442,165.56 441.6,165.55 441.2,165.42 440.8,164.92 440.4,164.42 440,164.37 439.6,164.33 439.2,165.17 438.8,166.31 438.4,166.65 438,166.2 437.6,166.21 437.2,167.61 436.8,169 436.4,167.02 436,165.05 435.6,164.81 435.2,165.15 434.8,165.31 434.4,165.3 434,165.37 433.6,165.72 433.2,166.07 432.8,166.19 432.4,166.31 432,165.93 431.6,165.38 431.2,165.38 430.8,165.94 430.4,166.51 430,167.11 429.6,167.7 429.2,166.84 428.8,165.98 428.4,165.95 428,166.2 427.6,165.99 427.2,165.31 426.8,165.06 426.4,166.08 426,167.09 425.6,166.37 425.2,165.65 424.8,166.27 424.4,167.33 424,167.59 423.6,167.05 423.2,166.64 422.8,166.57 422.4,166.5 422,166.1 421.6,165.71 421.2,165.52 420.8,165.4 420.4,165.33 420,165.32 419.6,164.7 419.2,164.62 418.8,164.54 418.4,163.19 418,161.84 417.6,161.19 417.2,160.68 416.8,160.34 416.4,160.19 416,160 415.6,159.71 415.2,159.42 414.8,158.63 414.4,158.11 414,158.35 413.6,158.86 413.2,158.42 412.8,157.04 412.4,156.23 412,157.12 411.6,158.01 411.2,157.83 410.8,157.65 410.4,158.43 410,159.53 409.6,159.61 409.2,158.67 408.8,158.16 408.4,158.93 408,159.71 407.6,159.9 407.2,160.09 406.8,159.31 406.4,158.2 406,157.58 405.6,157.45 405.2,157.61 404.8,158.7 404.4,159.86 404,159.77 403.6,159.69 403.2,159.78 402.8,159.93 402.4,160.08 402,160.22 401.6,160.39 401.2,160.62 400.8,160.86 400.4,160.63 400,160.4 399.6,160.13 399.2,159.9 398.8,160.06 398.4,160.6 398,161.1 397.6,161.48 397.2,161.86 396.8,162.74 396.4,163.63 396,163.7 395.6,163.51 395.2,163.01 394.8,162.15 394.4,161.49 394,161.56 393.6,161.63 393.2,161.34 392.8,161.05 392.4,160.86 392,160.72 391.6,161.03 391.2,161.82 390.8,162.04 390.4,160.6 390,159.16 389.6,160.08 389.2,161 388.8,160.34 388.4,159.15 388,158.81 387.6,159.32 387.2,159.55 386.8,158.96 386.4,158.38 386,157.25 385.6,156.13 385.2,155.75 384.8,155.46 384.4,155.45 384,155.86 383.6,155.94 383.2,155.04 382.8,154.13 382.4,152.64 382,151.14 381.6,151.72 381.2,152.98 380.8,152.61 380.4,150.6 380,149.39 379.6,150.62 379.2,151.85 378.8,150.89 378.4,149.92 378,148.67 377.6,147.33 377.2,146.64 376.8,146.59 376.4,146.51 376,146.31 375.6,146 375.2,145.85 374.8,145.69 374.4,145.11 374,144.39 373.6,143.25 373.2,141.7 372.8,140.35 372.4,139.62 372,138.89" fill="#ff0000"/>
<polyline points="324.6,127.31 324.85,123.86 325.1,120.55 325.35,117.81 325.6,114.64 325.85,111.69 326.1,108.43 326.35,105.42 326.6,102.82 326.85,100.92 327.1,98.61 327.35,95.68 327.6,94.09 327.85,92.53 328.1,90.89 328.35,89.59 328.6,89.14 328.85,88.44 329.1,87.8 329.35,87.08 329.6,86.33 329.85,86.33 330.1,86.1 330.35,85.37 330.6,84.9 330.85,84.77 331.1,85.02 331.35,84.92 331.6,84.55 331.85,84.87 332.1,84.8 332.35,84.59 332.6,85.02 332.85,85.27 333.1,85.22 333.35,85.43 333.6,84.98 333.85,85.24 334.1,85.84 334.35,85.42 334.6,85.89 334.85,86.61 335.1,86.68 335.35,86.56 335.6,86.96 335.85,87.49 336.1,88.1 336.35,88.59 336.6,88.59 336.85,88.97 337.1,89.17 337.35,88.96 337.6,89.45 337.85,90.12 338.1,90.23 338.35,90.23 338.6,90.68 338.85,90.59 339.1,91.05 339.35,92.16 339.6,91.9 339.85,92.13 340.1,92.65 340.35,93.18 340.6,93.23 340.85,93.12 341.1,94.21 341.35,95.12 341.6,94.67 341.85,94.56 342.1,95.62 342.35,96 342.6,96.78 342.85,97.03 343.1,97.09 343.35,97.55 343.6,98.27 343.85,98.99 344.1,98.88 344.35,98.8 344.6,99.82 344.85,100.98 345.1,101.12 345.35,101.66 345.6,101.96 345.85,101.82 346.1,101.87 346.35,102.19 346.6,103.27 346.85,103.41 347.1,103.1 347.35,103.85 347.6,104.49 347.85,105.17 348.1,105.01 348.35,104.52 348.6,105.33 348.85,106.79 349.1,107.45 349.35,107.44 349.6,107.38 349.85,107.77 350.1,108.17 350.35,108.76 350.6,108.91 350.85,109 351.1,109.66 351.35,110.21 351.6,110.73 351.85,111.99 352.1,112.94 352.35,112.86 352.6,111.65 352.85,111.19 353.1,112.21 353.35,112.99 353.6,112.58 353.85,113.25 354.1,115.23 354.35,114.41 354.6,113.78 354.85,114.39 355.1,115.27 355.35,116.37 355.6,117.78 355.85,117.73 356.1,117.45 356.35,118.01 356.6,118.92 356.85,119.62 357.1,119.79 357.35,119.18 357.6,118.7 357.85,119.21 358.1,120.54 358.35,121.75 358.6,121.1 358.85,120.84 359.1,121.65 359.35,121.82 359.6,121.3 359.85,122.32 360.1,124.68 360.35,124.56 360.6,123.06 360.85,122.81 361.1,122.65 361.35,124 361.6,125.68 361.85,125.68 362.1,125.68 362.35,126.06 362.6,126.26 362.85,125.54 363.1,125.47 363.35,126.84 363.6,126.94 363.85,126.88 364.1,127.17 364.35,127.58 364.6,129 364.85,129.27 365.1,128.92 365.35,130.05 365.6,130.91 365.85,131.83 366.1,130.3 366.35,130.05 366.6,131.47 366.85,131.29 367.1,132.52 367.35,133.5 367.6,133.96 367.85,133.64 368.1,134.38 368.35,134.42 368.6,133.53 368.85,134.64 369.1,134.69 369.35,136.01 369.6,137.49 369.85,137.85 370.1,137.45 370.35,135.93 370.6,136.42 370.85,137.58 371.1,137.37 371.35,137.45 371.6,138.22 371.85,139.49 372.1,139.35 372.35,139.27 372.6,139.63 372.85,138.45 373.1,138.74 373.35,138.9 373.6,139.9 373.85,141.95 374.1,142.32 374.35,142.35 374.6,143.84 374.85,143.91 375.1,143.13 375.35,143.04 375.6,141.95 375.85,143.12" fill="none" stroke="#ff0000" stroke-width="2.3" stroke-linejoin="round"/>
<circle cx="333.6" cy="51" r="1.0" fill="#000"/><circle cx="334" cy="57.5" r="1.0" fill="#000"/><circle cx="330" cy="61.2" r="1.0" fill="#000"/><circle cx="331.5" cy="50.5" r="1.0" fill="#000"/>
</g>
<rect x="325.1" y="10.5" width="218.9" height="153.6" fill="none" stroke="#000" stroke-width="1.45"/>
<line x1="364.9" y1="164.1" x2="364.9" y2="159.8" stroke="#000" stroke-width="1"/>
<line x1="364.9" y1="10.5" x2="364.9" y2="14.8" stroke="#000" stroke-width="1"/>
<line x1="404.7" y1="164.1" x2="404.7" y2="159.8" stroke="#000" stroke-width="1"/>
<line x1="404.7" y1="10.5" x2="404.7" y2="14.8" stroke="#000" stroke-width="1"/>
<line x1="444.5" y1="164.1" x2="444.5" y2="159.8" stroke="#000" stroke-width="1"/>
<line x1="444.5" y1="10.5" x2="444.5" y2="14.8" stroke="#000" stroke-width="1"/>
<line x1="484.3" y1="164.1" x2="484.3" y2="159.8" stroke="#000" stroke-width="1"/>
<line x1="484.3" y1="10.5" x2="484.3" y2="14.8" stroke="#000" stroke-width="1"/>
<line x1="524.1" y1="164.1" x2="524.1" y2="159.8" stroke="#000" stroke-width="1"/>
<line x1="524.1" y1="10.5" x2="524.1" y2="14.8" stroke="#000" stroke-width="1"/>
<line x1="345" y1="164.1" x2="345" y2="161.8" stroke="#000" stroke-width="1"/>
<line x1="345" y1="10.5" x2="345" y2="12.8" stroke="#000" stroke-width="1"/>
<line x1="384.8" y1="164.1" x2="384.8" y2="161.8" stroke="#000" stroke-width="1"/>
<line x1="384.8" y1="10.5" x2="384.8" y2="12.8" stroke="#000" stroke-width="1"/>
<line x1="424.6" y1="164.1" x2="424.6" y2="161.8" stroke="#000" stroke-width="1"/>
<line x1="424.6" y1="10.5" x2="424.6" y2="12.8" stroke="#000" stroke-width="1"/>
<line x1="464.4" y1="164.1" x2="464.4" y2="161.8" stroke="#000" stroke-width="1"/>
<line x1="464.4" y1="10.5" x2="464.4" y2="12.8" stroke="#000" stroke-width="1"/>
<line x1="504.2" y1="164.1" x2="504.2" y2="161.8" stroke="#000" stroke-width="1"/>
<line x1="504.2" y1="10.5" x2="504.2" y2="12.8" stroke="#000" stroke-width="1"/>
<line x1="325.1" y1="164.1" x2="330.6" y2="164.1" stroke="#000" stroke-width="1"/>
<line x1="544" y1="164.1" x2="538.5" y2="164.1" stroke="#000" stroke-width="1"/>
<line x1="325.1" y1="154.85" x2="328.1" y2="154.85" stroke="#000" stroke-width="1"/>
<line x1="544" y1="154.85" x2="541" y2="154.85" stroke="#000" stroke-width="1"/>
<line x1="325.1" y1="149.44" x2="328.1" y2="149.44" stroke="#000" stroke-width="1"/>
<line x1="544" y1="149.44" x2="541" y2="149.44" stroke="#000" stroke-width="1"/>
<line x1="325.1" y1="145.6" x2="328.1" y2="145.6" stroke="#000" stroke-width="1"/>
<line x1="544" y1="145.6" x2="541" y2="145.6" stroke="#000" stroke-width="1"/>
<line x1="325.1" y1="142.63" x2="328.1" y2="142.63" stroke="#000" stroke-width="1"/>
<line x1="544" y1="142.63" x2="541" y2="142.63" stroke="#000" stroke-width="1"/>
<line x1="325.1" y1="140.2" x2="328.1" y2="140.2" stroke="#000" stroke-width="1"/>
<line x1="544" y1="140.2" x2="541" y2="140.2" stroke="#000" stroke-width="1"/>
<line x1="325.1" y1="138.14" x2="328.1" y2="138.14" stroke="#000" stroke-width="1"/>
<line x1="544" y1="138.14" x2="541" y2="138.14" stroke="#000" stroke-width="1"/>
<line x1="325.1" y1="136.36" x2="328.1" y2="136.36" stroke="#000" stroke-width="1"/>
<line x1="544" y1="136.36" x2="541" y2="136.36" stroke="#000" stroke-width="1"/>
<line x1="325.1" y1="134.79" x2="328.1" y2="134.79" stroke="#000" stroke-width="1"/>
<line x1="544" y1="134.79" x2="541" y2="134.79" stroke="#000" stroke-width="1"/>
<line x1="325.1" y1="133.38" x2="330.6" y2="133.38" stroke="#000" stroke-width="1"/>
<line x1="544" y1="133.38" x2="538.5" y2="133.38" stroke="#000" stroke-width="1"/>
<line x1="325.1" y1="124.13" x2="328.1" y2="124.13" stroke="#000" stroke-width="1"/>
<line x1="544" y1="124.13" x2="541" y2="124.13" stroke="#000" stroke-width="1"/>
<line x1="325.1" y1="118.72" x2="328.1" y2="118.72" stroke="#000" stroke-width="1"/>
<line x1="544" y1="118.72" x2="541" y2="118.72" stroke="#000" stroke-width="1"/>
<line x1="325.1" y1="114.88" x2="328.1" y2="114.88" stroke="#000" stroke-width="1"/>
<line x1="544" y1="114.88" x2="541" y2="114.88" stroke="#000" stroke-width="1"/>
<line x1="325.1" y1="111.91" x2="328.1" y2="111.91" stroke="#000" stroke-width="1"/>
<line x1="544" y1="111.91" x2="541" y2="111.91" stroke="#000" stroke-width="1"/>
<line x1="325.1" y1="109.48" x2="328.1" y2="109.48" stroke="#000" stroke-width="1"/>
<line x1="544" y1="109.48" x2="541" y2="109.48" stroke="#000" stroke-width="1"/>
<line x1="325.1" y1="107.42" x2="328.1" y2="107.42" stroke="#000" stroke-width="1"/>
<line x1="544" y1="107.42" x2="541" y2="107.42" stroke="#000" stroke-width="1"/>
<line x1="325.1" y1="105.64" x2="328.1" y2="105.64" stroke="#000" stroke-width="1"/>
<line x1="544" y1="105.64" x2="541" y2="105.64" stroke="#000" stroke-width="1"/>
<line x1="325.1" y1="104.07" x2="328.1" y2="104.07" stroke="#000" stroke-width="1"/>
<line x1="544" y1="104.07" x2="541" y2="104.07" stroke="#000" stroke-width="1"/>
<line x1="325.1" y1="102.66" x2="330.6" y2="102.66" stroke="#000" stroke-width="1"/>
<line x1="544" y1="102.66" x2="538.5" y2="102.66" stroke="#000" stroke-width="1"/>
<line x1="325.1" y1="93.41" x2="328.1" y2="93.41" stroke="#000" stroke-width="1"/>
<line x1="544" y1="93.41" x2="541" y2="93.41" stroke="#000" stroke-width="1"/>
<line x1="325.1" y1="88" x2="328.1" y2="88" stroke="#000" stroke-width="1"/>
<line x1="544" y1="88" x2="541" y2="88" stroke="#000" stroke-width="1"/>
<line x1="325.1" y1="84.16" x2="328.1" y2="84.16" stroke="#000" stroke-width="1"/>
<line x1="544" y1="84.16" x2="541" y2="84.16" stroke="#000" stroke-width="1"/>
<line x1="325.1" y1="81.19" x2="328.1" y2="81.19" stroke="#000" stroke-width="1"/>
<line x1="544" y1="81.19" x2="541" y2="81.19" stroke="#000" stroke-width="1"/>
<line x1="325.1" y1="78.76" x2="328.1" y2="78.76" stroke="#000" stroke-width="1"/>
<line x1="544" y1="78.76" x2="541" y2="78.76" stroke="#000" stroke-width="1"/>
<line x1="325.1" y1="76.7" x2="328.1" y2="76.7" stroke="#000" stroke-width="1"/>
<line x1="544" y1="76.7" x2="541" y2="76.7" stroke="#000" stroke-width="1"/>
<line x1="325.1" y1="74.92" x2="328.1" y2="74.92" stroke="#000" stroke-width="1"/>
<line x1="544" y1="74.92" x2="541" y2="74.92" stroke="#000" stroke-width="1"/>
<line x1="325.1" y1="73.35" x2="328.1" y2="73.35" stroke="#000" stroke-width="1"/>
<line x1="544" y1="73.35" x2="541" y2="73.35" stroke="#000" stroke-width="1"/>
<line x1="325.1" y1="71.94" x2="330.6" y2="71.94" stroke="#000" stroke-width="1"/>
<line x1="544" y1="71.94" x2="538.5" y2="71.94" stroke="#000" stroke-width="1"/>
<line x1="325.1" y1="62.69" x2="328.1" y2="62.69" stroke="#000" stroke-width="1"/>
<line x1="544" y1="62.69" x2="541" y2="62.69" stroke="#000" stroke-width="1"/>
<line x1="325.1" y1="57.28" x2="328.1" y2="57.28" stroke="#000" stroke-width="1"/>
<line x1="544" y1="57.28" x2="541" y2="57.28" stroke="#000" stroke-width="1"/>
<line x1="325.1" y1="53.44" x2="328.1" y2="53.44" stroke="#000" stroke-width="1"/>
<line x1="544" y1="53.44" x2="541" y2="53.44" stroke="#000" stroke-width="1"/>
<line x1="325.1" y1="50.47" x2="328.1" y2="50.47" stroke="#000" stroke-width="1"/>
<line x1="544" y1="50.47" x2="541" y2="50.47" stroke="#000" stroke-width="1"/>
<line x1="325.1" y1="48.04" x2="328.1" y2="48.04" stroke="#000" stroke-width="1"/>
<line x1="544" y1="48.04" x2="541" y2="48.04" stroke="#000" stroke-width="1"/>
<line x1="325.1" y1="45.98" x2="328.1" y2="45.98" stroke="#000" stroke-width="1"/>
<line x1="544" y1="45.98" x2="541" y2="45.98" stroke="#000" stroke-width="1"/>
<line x1="325.1" y1="44.2" x2="328.1" y2="44.2" stroke="#000" stroke-width="1"/>
<line x1="544" y1="44.2" x2="541" y2="44.2" stroke="#000" stroke-width="1"/>
<line x1="325.1" y1="42.63" x2="328.1" y2="42.63" stroke="#000" stroke-width="1"/>
<line x1="544" y1="42.63" x2="541" y2="42.63" stroke="#000" stroke-width="1"/>
<line x1="325.1" y1="41.22" x2="330.6" y2="41.22" stroke="#000" stroke-width="1"/>
<line x1="544" y1="41.22" x2="538.5" y2="41.22" stroke="#000" stroke-width="1"/>
<line x1="325.1" y1="31.97" x2="328.1" y2="31.97" stroke="#000" stroke-width="1"/>
<line x1="544" y1="31.97" x2="541" y2="31.97" stroke="#000" stroke-width="1"/>
<line x1="325.1" y1="26.56" x2="328.1" y2="26.56" stroke="#000" stroke-width="1"/>
<line x1="544" y1="26.56" x2="541" y2="26.56" stroke="#000" stroke-width="1"/>
<line x1="325.1" y1="22.72" x2="328.1" y2="22.72" stroke="#000" stroke-width="1"/>
<line x1="544" y1="22.72" x2="541" y2="22.72" stroke="#000" stroke-width="1"/>
<line x1="325.1" y1="19.75" x2="328.1" y2="19.75" stroke="#000" stroke-width="1"/>
<line x1="544" y1="19.75" x2="541" y2="19.75" stroke="#000" stroke-width="1"/>
<line x1="325.1" y1="17.32" x2="328.1" y2="17.32" stroke="#000" stroke-width="1"/>
<line x1="544" y1="17.32" x2="541" y2="17.32" stroke="#000" stroke-width="1"/>
<line x1="325.1" y1="15.26" x2="328.1" y2="15.26" stroke="#000" stroke-width="1"/>
<line x1="544" y1="15.26" x2="541" y2="15.26" stroke="#000" stroke-width="1"/>
<line x1="325.1" y1="13.48" x2="328.1" y2="13.48" stroke="#000" stroke-width="1"/>
<line x1="544" y1="13.48" x2="541" y2="13.48" stroke="#000" stroke-width="1"/>
<line x1="325.1" y1="11.91" x2="328.1" y2="11.91" stroke="#000" stroke-width="1"/>
<line x1="544" y1="11.91" x2="541" y2="11.91" stroke="#000" stroke-width="1"/>
<line x1="325.1" y1="10.5" x2="330.6" y2="10.5" stroke="#000" stroke-width="1"/>
<line x1="544" y1="10.5" x2="538.5" y2="10.5" stroke="#000" stroke-width="1"/>
<text transform="translate(325.1 180.3) scale(1 1.0)" font-size="12" text-anchor="middle" font-family="'Liberation Sans', Arial, sans-serif">0</text>
<text transform="translate(364.9 180.3) scale(1 1.0)" font-size="12" text-anchor="middle" font-family="'Liberation Sans', Arial, sans-serif">10</text>
<text transform="translate(404.7 180.3) scale(1 1.0)" font-size="12" text-anchor="middle" font-family="'Liberation Sans', Arial, sans-serif">20</text>
<text transform="translate(444.5 180.3) scale(1 1.0)" font-size="12" text-anchor="middle" font-family="'Liberation Sans', Arial, sans-serif">30</text>
<text transform="translate(484.3 180.3) scale(1 1.0)" font-size="12" text-anchor="middle" font-family="'Liberation Sans', Arial, sans-serif">40</text>
<text transform="translate(524.1 180.3) scale(1 1.0)" font-size="12" text-anchor="middle" font-family="'Liberation Sans', Arial, sans-serif">50</text>
<text transform="translate(314.6 168.5) scale(1 1.0)" font-size="12" text-anchor="end" font-family="'Liberation Sans', Arial, sans-serif">10</text>
<text transform="translate(314.6 163.8) scale(1 1.0)" font-size="8" text-anchor="start" font-family="'Liberation Sans', Arial, sans-serif">1</text>
<text transform="translate(314.6 137.78) scale(1 1.0)" font-size="12" text-anchor="end" font-family="'Liberation Sans', Arial, sans-serif">10</text>
<text transform="translate(314.6 133.08) scale(1 1.0)" font-size="8" text-anchor="start" font-family="'Liberation Sans', Arial, sans-serif">2</text>
<text transform="translate(314.6 107.06) scale(1 1.0)" font-size="12" text-anchor="end" font-family="'Liberation Sans', Arial, sans-serif">10</text>
<text transform="translate(314.6 102.36) scale(1 1.0)" font-size="8" text-anchor="start" font-family="'Liberation Sans', Arial, sans-serif">3</text>
<text transform="translate(314.6 76.34) scale(1 1.0)" font-size="12" text-anchor="end" font-family="'Liberation Sans', Arial, sans-serif">10</text>
<text transform="translate(314.6 71.64) scale(1 1.0)" font-size="8" text-anchor="start" font-family="'Liberation Sans', Arial, sans-serif">4</text>
<text transform="translate(314.6 45.62) scale(1 1.0)" font-size="12" text-anchor="end" font-family="'Liberation Sans', Arial, sans-serif">10</text>
<text transform="translate(314.6 40.92) scale(1 1.0)" font-size="8" text-anchor="start" font-family="'Liberation Sans', Arial, sans-serif">5</text>
<text transform="translate(314.6 14.9) scale(1 1.0)" font-size="12" text-anchor="end" font-family="'Liberation Sans', Arial, sans-serif">10</text>
<text transform="translate(314.6 10.2) scale(1 1.0)" font-size="8" text-anchor="start" font-family="'Liberation Sans', Arial, sans-serif">6</text>
<text transform="translate(434.1 195.1) scale(1 1.0)" font-size="15" text-anchor="middle" font-family="'Liberation Sans', Arial, sans-serif">Distance (m)</text>
<text x="295.2" y="87" font-size="15" text-anchor="middle" font-family="'Liberation Sans', Arial, sans-serif" transform="rotate(-90 295.2 87)">Photon counts</text>
<text transform="translate(334 24.7) scale(1 1.0)" font-size="14" text-anchor="start" font-family="'Liberation Sans', Arial, sans-serif">(b)</text>
<text transform="translate(352.4 23.6) scale(1 1.0)" font-size="9.8" text-anchor="start" font-family="'Liberation Sans', Arial, sans-serif">Raw data</text>
<circle cx="352.8" cy="32.3" r="1.45" fill="#1e8c1e"/>
<circle cx="359.35" cy="32.3" r="1.45" fill="#1e8c1e"/>
<circle cx="365.9" cy="32.3" r="1.45" fill="#1e8c1e"/>
<text transform="translate(371 35.8) scale(1 1.0)" font-size="9.8" text-anchor="start" font-family="'Liberation Sans', Arial, sans-serif">Elastic</text>
<circle cx="352.8" cy="44.5" r="1.45" fill="#2ea4f5"/>
<circle cx="359.35" cy="44.5" r="1.45" fill="#2ea4f5"/>
<circle cx="365.9" cy="44.5" r="1.45" fill="#2ea4f5"/>
<text transform="translate(371 48) scale(1 1.0)" font-size="9.8" text-anchor="start" font-family="'Liberation Sans', Arial, sans-serif">Raman</text>
<circle cx="352.8" cy="56.7" r="1.45" fill="#000"/>
<circle cx="359.35" cy="56.7" r="1.45" fill="#000"/>
<circle cx="365.9" cy="56.7" r="1.45" fill="#000"/>
<text transform="translate(371 60.2) scale(1 1.0)" font-size="9.8" text-anchor="start" font-family="'Liberation Sans', Arial, sans-serif">Fluorescence</text>
<text transform="translate(440.5 23.6) scale(1 1.0)" font-size="9.8" text-anchor="start" font-family="'Liberation Sans', Arial, sans-serif">Corrected data</text>
<line x1="441.3" y1="32.5" x2="455.7" y2="32.5" stroke="#808000" stroke-width="1.6"/>
<text transform="translate(459.5 36) scale(1 1.0)" font-size="9.8" text-anchor="start" font-family="'Liberation Sans', Arial, sans-serif">Elastic</text>
<line x1="441.3" y1="44.8" x2="455.7" y2="44.8" stroke="#00dd00" stroke-width="1.6"/>
<text transform="translate(459.5 48.3) scale(1 1.0)" font-size="9.8" text-anchor="start" font-family="'Liberation Sans', Arial, sans-serif">Raman</text>
<line x1="441.3" y1="57.1" x2="455.7" y2="57.1" stroke="#ff0000" stroke-width="1.6"/>
<text transform="translate(459.5 60.6) scale(1 1.0)" font-size="9.8" text-anchor="start" font-family="'Liberation Sans', Arial, sans-serif">Fluorescence</text>
<clipPath id="cc"><rect x="48.3" y="206.8" width="219.2" height="153.59999999999997"/></clipPath>
<g clip-path="url(#cc)">
<circle cx="64.6" cy="353.32" r="1.5" fill="#2ea4f5"/><circle cx="66.79" cy="330.61" r="1.5" fill="#2ea4f5"/><circle cx="68.98" cy="315.56" r="1.5" fill="#2ea4f5"/><circle cx="71.17" cy="308.85" r="1.5" fill="#2ea4f5"/><circle cx="73.36" cy="302.32" r="1.5" fill="#2ea4f5"/><circle cx="75.55" cy="289.61" r="1.5" fill="#2ea4f5"/><circle cx="77.74" cy="278.23" r="1.5" fill="#2ea4f5"/><circle cx="79.93" cy="268.13" r="1.5" fill="#2ea4f5"/><circle cx="82.12" cy="266.02" r="1.5" fill="#2ea4f5"/><circle cx="84.31" cy="262.41" r="1.5" fill="#2ea4f5"/><circle cx="86.5" cy="251.17" r="1.5" fill="#2ea4f5"/><circle cx="88.69" cy="240.77" r="1.5" fill="#2ea4f5"/><circle cx="90.88" cy="237.36" r="1.5" fill="#2ea4f5"/><circle cx="93.07" cy="243.24" r="1.5" fill="#2ea4f5"/><circle cx="95.26" cy="234.93" r="1.5" fill="#2ea4f5"/><circle cx="97.45" cy="224.84" r="1.5" fill="#2ea4f5"/><circle cx="99.64" cy="228.64" r="1.5" fill="#2ea4f5"/><circle cx="101.83" cy="224.23" r="1.5" fill="#2ea4f5"/><circle cx="104.02" cy="225.48" r="1.5" fill="#2ea4f5"/><circle cx="106.21" cy="224.84" r="1.5" fill="#2ea4f5"/><circle cx="108.4" cy="222.93" r="1.5" fill="#2ea4f5"/><circle cx="110.59" cy="226.4" r="1.5" fill="#2ea4f5"/><circle cx="112.78" cy="223.08" r="1.5" fill="#2ea4f5"/><circle cx="114.97" cy="219.73" r="1.5" fill="#2ea4f5"/><circle cx="117.16" cy="221.87" r="1.5" fill="#2ea4f5"/><circle cx="119.35" cy="223.47" r="1.5" fill="#2ea4f5"/><circle cx="121.54" cy="216.07" r="1.5" fill="#2ea4f5"/><circle cx="123.73" cy="222.05" r="1.5" fill="#2ea4f5"/><circle cx="125.92" cy="220.18" r="1.5" fill="#2ea4f5"/><circle cx="128.11" cy="223.81" r="1.5" fill="#2ea4f5"/><circle cx="130.3" cy="221.01" r="1.5" fill="#2ea4f5"/><circle cx="132.49" cy="226.98" r="1.5" fill="#2ea4f5"/><circle cx="134.68" cy="228.03" r="1.5" fill="#2ea4f5"/><circle cx="136.87" cy="228.06" r="1.5" fill="#2ea4f5"/><circle cx="139.06" cy="225.6" r="1.5" fill="#2ea4f5"/><circle cx="141.25" cy="228.77" r="1.5" fill="#2ea4f5"/><circle cx="143.44" cy="228.05" r="1.5" fill="#2ea4f5"/><circle cx="145.63" cy="228.89" r="1.5" fill="#2ea4f5"/><circle cx="147.82" cy="236.25" r="1.5" fill="#2ea4f5"/><circle cx="150.01" cy="232.4" r="1.5" fill="#2ea4f5"/><circle cx="152.2" cy="241.55" r="1.5" fill="#2ea4f5"/><circle cx="154.39" cy="240.87" r="1.5" fill="#2ea4f5"/><circle cx="156.58" cy="232.32" r="1.5" fill="#2ea4f5"/><circle cx="158.77" cy="241.84" r="1.5" fill="#2ea4f5"/><circle cx="160.96" cy="238.25" r="1.5" fill="#2ea4f5"/><circle cx="163.15" cy="246.04" r="1.5" fill="#2ea4f5"/><circle cx="165.34" cy="247.92" r="1.5" fill="#2ea4f5"/><circle cx="167.53" cy="240.99" r="1.5" fill="#2ea4f5"/><circle cx="169.72" cy="248.59" r="1.5" fill="#2ea4f5"/><circle cx="171.91" cy="250.74" r="1.5" fill="#2ea4f5"/><circle cx="174.1" cy="257.34" r="1.5" fill="#2ea4f5"/><circle cx="176.29" cy="251.43" r="1.5" fill="#2ea4f5"/><circle cx="178.48" cy="259.53" r="1.5" fill="#2ea4f5"/><circle cx="180.67" cy="254.11" r="1.5" fill="#2ea4f5"/><circle cx="182.86" cy="258.58" r="1.5" fill="#2ea4f5"/><circle cx="185.05" cy="259.65" r="1.5" fill="#2ea4f5"/><circle cx="187.24" cy="270.51" r="1.5" fill="#2ea4f5"/><circle cx="189.43" cy="268.8" r="1.5" fill="#2ea4f5"/><circle cx="191.62" cy="276.91" r="1.5" fill="#2ea4f5"/><circle cx="193.81" cy="271.54" r="1.5" fill="#2ea4f5"/><circle cx="196" cy="273.49" r="1.5" fill="#2ea4f5"/><circle cx="198.19" cy="276.24" r="1.5" fill="#2ea4f5"/><circle cx="200.38" cy="273.97" r="1.5" fill="#2ea4f5"/><circle cx="202.57" cy="279.49" r="1.5" fill="#2ea4f5"/><circle cx="204.76" cy="287.19" r="1.5" fill="#2ea4f5"/><circle cx="206.95" cy="283.49" r="1.5" fill="#2ea4f5"/><circle cx="209.14" cy="288.19" r="1.5" fill="#2ea4f5"/><circle cx="211.33" cy="289.38" r="1.5" fill="#2ea4f5"/><circle cx="213.52" cy="293.54" r="1.5" fill="#2ea4f5"/><circle cx="215.71" cy="291.93" r="1.5" fill="#2ea4f5"/><circle cx="217.9" cy="294.59" r="1.5" fill="#2ea4f5"/><circle cx="220.09" cy="298.2" r="1.5" fill="#2ea4f5"/><circle cx="222.28" cy="300.14" r="1.5" fill="#2ea4f5"/><circle cx="224.47" cy="299.1" r="1.5" fill="#2ea4f5"/><circle cx="226.66" cy="307.5" r="1.5" fill="#2ea4f5"/><circle cx="228.85" cy="301.55" r="1.5" fill="#2ea4f5"/><circle cx="231.04" cy="304.02" r="1.5" fill="#2ea4f5"/><circle cx="233.23" cy="306.13" r="1.5" fill="#2ea4f5"/><circle cx="235.42" cy="317.83" r="1.5" fill="#2ea4f5"/><circle cx="237.61" cy="315.95" r="1.5" fill="#2ea4f5"/><circle cx="239.8" cy="316.18" r="1.5" fill="#2ea4f5"/><circle cx="241.99" cy="318" r="1.5" fill="#2ea4f5"/><circle cx="244.18" cy="325.8" r="1.5" fill="#2ea4f5"/><circle cx="246.37" cy="323.21" r="1.5" fill="#2ea4f5"/><circle cx="248.56" cy="325.71" r="1.5" fill="#2ea4f5"/><circle cx="250.75" cy="335.42" r="1.5" fill="#2ea4f5"/><circle cx="252.94" cy="331.68" r="1.5" fill="#2ea4f5"/><circle cx="255.13" cy="337.4" r="1.5" fill="#2ea4f5"/><circle cx="257.32" cy="340.8" r="1.5" fill="#2ea4f5"/><circle cx="259.51" cy="341.05" r="1.5" fill="#2ea4f5"/><circle cx="261.7" cy="343.39" r="1.5" fill="#2ea4f5"/><circle cx="263.89" cy="349.63" r="1.5" fill="#2ea4f5"/><circle cx="266.08" cy="345.73" r="1.5" fill="#2ea4f5"/>
<polyline points="64.1,361 64.6,356.21 65.1,351.42 65.6,346.63 66.1,341.83 66.6,337.1 67.1,332.57 67.6,328.05 68.1,323.53 68.6,319.01 69.1,315.95 69.6,313.87 70.1,311.79 70.6,309.71 71.1,307.63 71.6,305.55 72.1,303.47 72.6,301.39 73.1,299.31 73.6,297.23 74.1,295.17 74.6,293.11 75.1,291.06 75.6,289.01 76.1,286.96 76.6,284.9 77.1,282.85 77.6,280.8 78.1,278.74 78.6,276.67 79.1,274.52 79.6,272.37 80.1,270.22 80.6,268.18 81.1,266.58 81.6,264.99 82.1,263.39 82.6,261.8 83.1,260.2 83.6,258.68 84.1,257.17 84.6,255.65 85.1,254.13 85.6,252.62 86.1,251.1 86.6,249.96 87.1,248.82 87.6,247.69 88.1,246.55 88.6,245.41 89.1,244.28 89.6,243.14 90.1,242 90.6,241.24 91.1,240.48 91.6,239.72 92.1,238.96 92.6,238.2 93.1,237.43 93.6,236.67 94.1,235.91 94.6,235.15 95.1,234.43 95.6,233.71 96.1,233 96.6,232.29 97.1,231.57 97.6,230.9 98.1,230.42 98.6,229.94 99.1,229.46 99.6,228.98 100.1,228.59 100.6,228.54 101.1,228.49 101.6,228.44 102.1,228.39 102.6,228.34 103.1,228.25 103.6,227.97 104.1,227.7 104.6,227.43 105.1,227.15 105.6,226.9 106.1,226.65 106.6,226.4 107.1,226.15 107.6,225.9 108.1,225.65 108.6,225.4 109.1,225.15 109.6,224.9 110.1,224.65 110.6,224.4 111.1,224.15 111.6,223.9 112.1,223.65 112.6,223.4 113.1,223.1 113.6,222.77 114.1,222.43 114.6,222.1 115.1,221.77 115.6,221.43 116.1,221.1 116.6,220.77 117.1,220.43 117.6,220.1 118.1,219.77 118.6,219.97 119.1,220.31 119.6,220.66 120.1,221 120.6,221.34 121.1,221.68 121.6,222.02 122.1,222.36 122.6,222.6 123.1,222.77 123.6,222.93 124.1,223.1 124.6,223.27 125.1,223.43 125.6,223.6 126.1,223.77 126.6,223.93 127.1,224.1 127.6,224.27 128.1,224.43 128.6,224.67 129.1,224.96 129.6,225.25 130.1,225.53 130.6,225.82 131.1,226.11 131.6,226.4 132.1,226.68 132.6,226.97 133.1,227.26 133.6,227.55 134.1,227.83 134.6,228.12 135.1,228.41 135.6,228.7 136.1,228.98 136.6,229.13 137.1,229.18 137.6,229.23 138.1,229.28 138.6,229.32 139.1,229.37 139.6,229.42 140.1,229.47 140.6,229.66 141.1,230.07 141.6,230.48 142.1,230.89 142.6,231.3 143.1,231.71 143.6,232.11 144.1,232.52 144.6,232.93 145.1,233.34 145.6,233.75 146.1,234.16 146.6,234.56 147.1,234.97 147.6,235.34 148.1,235.56 148.6,235.78 149.1,235.99 149.6,236.21 150.1,236.43 150.6,236.65 151.1,236.86 151.6,237.08 152.1,237.3 152.6,237.51 153.1,237.73 153.6,237.95 154.1,238.17 154.6,238.38 155.1,238.6 155.6,238.91 156.1,239.22 156.6,239.53 157.1,239.83 157.6,240.14 158.1,240.45 158.6,240.76 159.1,241.07 159.6,241.38 160.1,241.68 160.6,241.99 161.1,242.3 161.6,243.18 162.1,244.07 162.6,244.95 163.1,245.83 163.6,246.72 164.1,247.6 164.6,247.67 165.1,247.73 165.6,247.8 166.1,247.86 166.6,247.94 167.1,248.05 167.6,248.16 168.1,248.27 168.6,248.38 169.1,248.81 169.6,249.31 170.1,249.82 170.6,250.33 171.1,250.84 171.6,251.34 172.1,251.85 172.6,252.36 173.1,252.87 173.6,253.37 174.1,253.88 174.6,254.39 175.1,254.9 175.6,255.31 176.1,255.58 176.6,255.85 177.1,256.12 177.6,256.4 178.1,256.67 178.6,256.94 179.1,257.21 179.6,257.49 180.1,257.76 180.6,258.03 181.1,258.3 181.6,258.57 182.1,258.85 182.6,259.43 183.1,260.09 183.6,260.76 184.1,261.42 184.6,262.08 185.1,262.75 185.6,263.41 186.1,264.07 186.6,264.73 187.1,265.2 187.6,265.53 188.1,265.87 188.6,266.2 189.1,266.53 189.6,266.87 190.1,267.2 190.6,267.53 191.1,267.87 191.6,268.15 192.1,268.39 192.6,268.64 193.1,268.88 193.6,269.12 194.1,269.37 194.6,269.61 195.1,269.86 195.6,270.1 196.1,270.58 196.6,271.21 197.1,271.84 197.6,272.47 198.1,273.1 198.6,273.73 199.1,274.36 199.6,275 200.1,275.67 200.6,276.54 201.1,277.4 201.6,278.26 202.1,279.13 202.6,279.77 203.1,280.36 203.6,280.96 204.1,281.55 204.6,282.14 205.1,282.73 205.6,283.32 206.1,283.91 206.6,284.51 207.1,285.1 207.6,285.69 208.1,286.28 208.6,286.87 209.1,287.46 209.6,287.96 210.1,288.39 210.6,288.82 211.1,289.26 211.6,289.69 212.1,290.12 212.6,290.55 213.1,290.99 213.6,291.42 214.1,291.85 214.6,292.28 215.1,292.71 215.6,293.15 216.1,293.58 216.6,294.01 217.1,294.44 217.6,294.88 218.1,295.31 218.6,295.74 219.1,296.22 219.6,296.78 220.1,297.34 220.6,297.9 221.1,298.45 221.6,299.01 222.1,299.57 222.6,300.12 223.1,300.68 223.6,301.24 224.1,301.8 224.6,302.35 225.1,302.89 225.6,303.33 226.1,303.78 226.6,304.22 227.1,304.67 227.6,305.11 228.1,305.56 228.6,306 229.1,306.44 229.6,306.9 230.1,307.4 230.6,307.9 231.1,308.4 231.6,308.9 232.1,309.4 232.6,309.9 233.1,310.53 233.6,311.35 234.1,312.18 234.6,313 235.1,313.82 235.6,314.65 236.1,315.47 236.6,316.13 237.1,316.69 237.6,317.24 238.1,317.79 238.6,318.35 239.1,318.9 239.6,319.45 240.1,320.01 240.6,320.56 241.1,321.11 241.6,321.67 242.1,322.2 242.6,322.7 243.1,323.2 243.6,323.7 244.1,324.2 244.6,324.7 245.1,325.2 245.6,325.85 246.1,326.6 246.6,327.35 247.1,328.1 247.6,328.85 248.1,329.6 248.6,330.35 249.1,331.03 249.6,331.69 250.1,332.35 250.6,333.01 251.1,333.68 251.6,334.34 252.1,335 252.6,335.59 253.1,336.18 253.6,336.76 254.1,337.35 254.6,337.94 255.1,338.53 255.6,339.1 256.1,339.6 256.6,340.1 257.1,340.6 257.6,341.1 258.1,341.6 258.6,342.1 259.1,342.48 259.6,342.7 260.1,342.91 260.6,343.12 261.1,343.33 261.6,343.54 262.1,343.75 262.6,343.96 263.1,344.17 263.6,344.51 264.1,345.03 264.6,345.56 265.1,346.08 265.6,346.69 266.1,347.63 266.6,348.56 267.1,349.5 267.6,350.44" fill="none" stroke="#00dd00" stroke-width="1.6"/>
</g>
<rect x="48.3" y="206.8" width="219.2" height="153.6" fill="none" stroke="#000" stroke-width="1.45"/>
<line x1="103.1" y1="360.4" x2="103.1" y2="356.4" stroke="#000" stroke-width="1"/>
<line x1="103.1" y1="206.8" x2="103.1" y2="210.8" stroke="#000" stroke-width="1"/>
<line x1="157.9" y1="360.4" x2="157.9" y2="356.4" stroke="#000" stroke-width="1"/>
<line x1="157.9" y1="206.8" x2="157.9" y2="210.8" stroke="#000" stroke-width="1"/>
<line x1="212.7" y1="360.4" x2="212.7" y2="356.4" stroke="#000" stroke-width="1"/>
<line x1="212.7" y1="206.8" x2="212.7" y2="210.8" stroke="#000" stroke-width="1"/>
<line x1="75.7" y1="360.4" x2="75.7" y2="358.4" stroke="#000" stroke-width="1"/>
<line x1="75.7" y1="206.8" x2="75.7" y2="208.8" stroke="#000" stroke-width="1"/>
<line x1="130.5" y1="360.4" x2="130.5" y2="358.4" stroke="#000" stroke-width="1"/>
<line x1="130.5" y1="206.8" x2="130.5" y2="208.8" stroke="#000" stroke-width="1"/>
<line x1="185.3" y1="360.4" x2="185.3" y2="358.4" stroke="#000" stroke-width="1"/>
<line x1="185.3" y1="206.8" x2="185.3" y2="208.8" stroke="#000" stroke-width="1"/>
<line x1="240.1" y1="360.4" x2="240.1" y2="358.4" stroke="#000" stroke-width="1"/>
<line x1="240.1" y1="206.8" x2="240.1" y2="208.8" stroke="#000" stroke-width="1"/>
<line x1="48.3" y1="360.4" x2="54" y2="360.4" stroke="#000" stroke-width="1"/>
<line x1="267.5" y1="360.4" x2="261.8" y2="360.4" stroke="#000" stroke-width="1"/>
<line x1="48.3" y1="234.4" x2="54" y2="234.4" stroke="#000" stroke-width="1"/>
<line x1="267.5" y1="234.4" x2="261.8" y2="234.4" stroke="#000" stroke-width="1"/>
<line x1="48.3" y1="341.25" x2="51.1" y2="341.25" stroke="#000" stroke-width="1"/>
<line x1="267.5" y1="341.25" x2="264.7" y2="341.25" stroke="#000" stroke-width="1"/>
<line x1="48.3" y1="323.92" x2="51.1" y2="323.92" stroke="#000" stroke-width="1"/>
<line x1="267.5" y1="323.92" x2="264.7" y2="323.92" stroke="#000" stroke-width="1"/>
<line x1="48.3" y1="308.11" x2="51.1" y2="308.11" stroke="#000" stroke-width="1"/>
<line x1="267.5" y1="308.11" x2="264.7" y2="308.11" stroke="#000" stroke-width="1"/>
<line x1="48.3" y1="293.56" x2="51.1" y2="293.56" stroke="#000" stroke-width="1"/>
<line x1="267.5" y1="293.56" x2="264.7" y2="293.56" stroke="#000" stroke-width="1"/>
<line x1="48.3" y1="280.08" x2="51.1" y2="280.08" stroke="#000" stroke-width="1"/>
<line x1="267.5" y1="280.08" x2="264.7" y2="280.08" stroke="#000" stroke-width="1"/>
<line x1="48.3" y1="267.54" x2="51.1" y2="267.54" stroke="#000" stroke-width="1"/>
<line x1="267.5" y1="267.54" x2="264.7" y2="267.54" stroke="#000" stroke-width="1"/>
<line x1="48.3" y1="255.81" x2="51.1" y2="255.81" stroke="#000" stroke-width="1"/>
<line x1="267.5" y1="255.81" x2="264.7" y2="255.81" stroke="#000" stroke-width="1"/>
<line x1="48.3" y1="244.79" x2="51.1" y2="244.79" stroke="#000" stroke-width="1"/>
<line x1="267.5" y1="244.79" x2="264.7" y2="244.79" stroke="#000" stroke-width="1"/>
<line x1="48.3" y1="224.57" x2="51.1" y2="224.57" stroke="#000" stroke-width="1"/>
<line x1="267.5" y1="224.57" x2="264.7" y2="224.57" stroke="#000" stroke-width="1"/>
<line x1="48.3" y1="215.25" x2="51.1" y2="215.25" stroke="#000" stroke-width="1"/>
<line x1="267.5" y1="215.25" x2="264.7" y2="215.25" stroke="#000" stroke-width="1"/>
<text transform="translate(48.3 375.2) scale(1 1.0)" font-size="12" text-anchor="middle" font-family="'Liberation Sans', Arial, sans-serif">0</text>
<text transform="translate(103.1 375.2) scale(1 1.0)" font-size="12" text-anchor="middle" font-family="'Liberation Sans', Arial, sans-serif">1</text>
<text transform="translate(157.9 375.2) scale(1 1.0)" font-size="12" text-anchor="middle" font-family="'Liberation Sans', Arial, sans-serif">2</text>
<text transform="translate(212.7 375.2) scale(1 1.0)" font-size="12" text-anchor="middle" font-family="'Liberation Sans', Arial, sans-serif">3</text>
<text transform="translate(267.5 375.2) scale(1 1.0)" font-size="12" text-anchor="middle" font-family="'Liberation Sans', Arial, sans-serif">4</text>
<text transform="translate(41.5 364.4) scale(1 1.0)" font-size="12" text-anchor="end" font-family="'Liberation Sans', Arial, sans-serif">1.5</text>
<text transform="translate(41.5 238.4) scale(1 1.0)" font-size="12" text-anchor="end" font-family="'Liberation Sans', Arial, sans-serif">3</text>
<text transform="translate(158 391.4) scale(1 1.0)" font-size="15" text-anchor="middle" font-family="'Liberation Sans', Arial, sans-serif">Distance (m)</text>
<text transform="translate(18.8 276.6) rotate(-90)" font-size="15.25" text-anchor="middle" font-family="'Liberation Sans', Arial, sans-serif">Photon counts (×10<tspan font-size="10" dy="-6">4</tspan><tspan dy="6">)</tspan></text>
<text transform="translate(53 222.2) scale(1 1.0)" font-size="14" text-anchor="start" font-family="'Liberation Sans', Arial, sans-serif">(c)</text>
<circle cx="86.4" cy="307.2" r="1.5" fill="#2ea4f5"/>
<circle cx="92.7" cy="307.2" r="1.5" fill="#2ea4f5"/>
<circle cx="99" cy="307.2" r="1.5" fill="#2ea4f5"/>
<text transform="translate(102.5 310.6) scale(1 1.0)" font-size="9.8" text-anchor="start" font-family="'Liberation Sans', Arial, sans-serif">Raw data of Raman signal</text>
<line x1="85.8" y1="319.3" x2="100" y2="319.3" stroke="#00dd00" stroke-width="1.7"/>
<text transform="translate(102.5 322.5) scale(1 1.0)" font-size="9.8" text-anchor="start" font-family="'Liberation Sans', Arial, sans-serif">Corrected data of Raman signal</text>
<clipPath id="cd"><rect x="325.0" y="207.0" width="218.79999999999995" height="153.5"/></clipPath>
<g clip-path="url(#cd)">
<polyline points="324.9,222.42 325.4,224.95 325.9,227.49 326.4,230.13 326.9,232.7 327.4,235.26 327.9,237.61 328.4,239.65 328.9,241.71 329.4,243.72 329.9,245.61 330.4,247.47 330.9,249.24 331.4,250.73 331.9,252.15 332.4,253.72 332.9,255.29 333.4,256.85 333.9,258.36 334.4,259.71 334.9,260.93 335.4,262.14 335.9,263.34 336.4,264.54 336.9,265.75 337.4,266.87 337.9,267.87 338.4,268.86 338.9,269.85 339.4,271.23 339.9,272.62 340.4,273.94 340.9,274.9 341.4,275.58 341.9,276.41 342.4,277.47 342.9,278.54 343.4,279.37 343.9,280.01 344.4,280.65 344.9,281.26 345.4,281.8 345.9,282.33 346.4,282.81 346.9,283.28 347.4,283.82 347.9,284.7 348.4,285.59 348.9,286.09 349.4,286.21 349.9,286.31 350.4,286.8 350.9,287.58 351.4,288.38 351.9,288.59 352.4,288.56 352.9,288.42 353.4,288.78 353.9,289.14 354.4,289.41 354.9,289.28 355.4,289.12 355.9,289.47 356.4,290.63 356.9,292.03 357.4,292.77 357.9,292.86 358.4,292.92 358.9,294.06 359.4,295.48 359.9,295.89 360.4,295.23 360.9,294.58 361.4,293.76 361.9,292.27 362.4,291.64 362.9,291.63 363.4,292.22 363.9,292.81 364.4,292.76 364.9,292.27 365.4,291.77 365.9,292.17 366.4,292.79 366.9,293.42 367.4,293.08 367.9,292.83 368.4,292.63 368.9,292.62 369.4,292.61 369.9,292.86 370.4,293.5 370.9,294.15 371.4,294.39 371.9,294.35 372.4,294.3 372.9,295.03 373.4,295.94 373.9,296.87 374.4,297.01 374.9,297.17 375.4,297.4 375.9,297.9 376.4,298.41 376.9,298.79 377.4,298.98 377.9,299.18 378.4,299.36 378.9,299.15 379.4,298.68 379.9,298.44 380.4,298.27 380.9,298.09 381.4,298.33 381.9,298.61 382.4,298.74 382.9,298.2 383.4,297.65 383.9,297.2 384.4,296.89 384.9,296.59 385.4,296.36 385.9,296.19 386.4,296.21 386.9,296.59 387.4,297.03 387.9,297.48 388.4,297.44 388.9,297.4 389.4,297.6 389.9,298.79 390.4,300 390.9,300.31 391.4,299.26 391.9,298.2 392.4,298.03 392.9,298.45 393.4,299.79 393.9,300.25 394.4,300.76 394.9,301.34 395.4,302.08 395.9,303.07 396.4,304.17 396.9,305.28 397.4,306.44 397.9,307.31 398.4,307.58 398.9,307.14 399.4,306.25 399.9,305.25 400.4,304.2 400.9,303.45 401.4,303.41 401.9,304.43 402.4,307.01 402.9,311.18 403.4,316.14 403.9,320 404.4,321.19 404.9,318.97 405.4,314.19 405.9,308.45 406.4,303.24 406.9,299.14 407.4,295.9 407.9,293.01 408.4,290.36 408.9,287.56 409.4,284.33 409.9,281.09 410.4,278.27 410.9,276.21 411.4,275.37 411.9,276.06 412.4,277.62 412.9,279.83 413.4,282.13 413.9,284.4 414.4,286.8 414.9,289.35 415.4,291.83 415.9,294.03 416.4,296.32 416.9,298.2 417.4,299.59 417.9,300.65 418.4,301.42 418.9,302.01 419.4,302.48 419.9,302.91 420.4,305.71 420.9,309.11 421.4,311.24 421.9,309.67 422.4,307.98 422.9,306.29 423.4,305.94 423.9,305.79 424.4,305.38 424.9,303.86 425.4,302.32 425.9,301.41 426.4,301.47 426.9,301.53 427.4,301.22 427.9,300.67 428.4,301.24 428.9,302.73 429.4,304.39 429.9,306.06 430.4,307.24 430.9,308.41 431.4,310.68 431.9,312.24 432.4,312.84 432.9,310.39 433.4,309.1 433.9,307.81 434.4,308.24 434.9,309.04 435.4,309.84 435.9,310.3 436.4,310.68 436.9,311.06 437.4,310.04 437.9,309 438.4,308.42 438.9,309.74 439.4,311.07 439.9,311.92 440.4,311.32 440.9,310.56 441.4,309.57 441.9,308.43 442.4,307.29 442.9,307.84 443.4,308.84 443.9,309.86 444.4,307.05 444.9,304.19 445.4,301.85 445.9,301.68 446.4,302.7 446.9,304.01 447.4,306.02 447.9,306.1 448.4,306.1 448.9,306.03 449.4,305.91 449.9,305.64 450.4,305.17 450.9,304.4 451.4,303.46 451.9,302.16 452.4,300.62 452.9,299.02 453.4,297.86 453.9,297.48 454.4,298.42 454.9,302.72 455.4,314.18 455.9,331.61 456.4,341.68 456.9,334.5 457.4,320.94 457.9,314.47 458.4,314.15 458.9,316.47 459.4,320.06 459.9,318.6 460.4,312.21 460.9,307.86 461.4,306.34 461.9,305.86 462.4,305.4 462.9,307.9 463.4,310.4 463.9,309.42 464.4,307.57 464.9,305.72 465.4,309.2 465.9,313.2 466.4,310.8 466.9,306.8 467.4,305.82 467.9,305.98 468.4,306.87 468.9,307.75 469.4,307.42 469.9,306.26 470.4,305.11 470.9,306.36 471.4,308.21 471.9,310.06 472.4,309.03 472.9,308 473.4,307.12 473.9,306.84 474.4,306.55 474.9,306.15 475.4,308 475.9,313 476.4,318 476.9,313 477.4,308 477.9,306.44 478.4,306.22 478.9,305.99 479.4,307.49 479.9,309.6 480.4,315.6 480.9,314.4 481.4,308.51 481.9,307.27 482.4,305.31 482.9,303.35 483.4,304.02 483.9,306.45 484.4,308.88 484.9,306.91 485.4,303.85 485.9,300.78 486.4,307.5 486.9,311.25 487.4,309 487.9,306.16 488.4,304.54 488.9,304.35 489.4,304.62 489.9,304.88 490.4,305.03 490.9,305.09 491.4,305.09 491.9,304.78 492.4,304.23 492.9,303.35 493.4,301.97 493.9,299.99 494.4,297.4 494.9,294.51 495.4,291.1 495.9,287.2 496.4,283.17 496.9,280.01 497.4,278.45 497.9,278.65 498.4,280.41 498.9,283.69 499.4,287.81 499.9,292.13 500.4,295.47 500.9,298.25 501.4,300.41 501.9,302.31 502.4,303.89 502.9,306.2 503.4,311.53 503.9,321.57 504.4,332.52 504.9,335.85 505.4,328.65 505.9,319.32 506.4,316.62 506.9,317.95 507.4,322.81 507.9,329.2 508.4,324.29 508.9,312.86 509.4,306.71 509.9,305.87 510.4,308.54 510.9,314.63 511.4,318.55 511.9,314.92 512.4,309.48 512.9,307.82 513.4,308.97 513.9,311.05 514.4,313.16 514.9,314.29 515.4,313.91 515.9,312.1 516.4,309.91 516.9,308.29 517.4,307.74 517.9,308.19 518.4,309.37 518.9,310.8 519.4,312 519.9,312.81 520.4,312.94 520.9,312.79 521.4,313.28 521.9,315.21 522.4,317.15 522.9,316.31 523.4,312.6 523.9,308.43 524.4,305.78 524.9,304.59 525.4,304.38 525.9,304.55 526.4,304.65 526.9,305.49 527.4,307.75 527.9,312.12 528.4,309.5 528.9,306.76 529.4,306.62 529.9,306.46 530.4,306.3 530.9,306.49 531.4,307.19 531.9,307.89 532.4,308.15 532.9,308.1 533.4,310.96 533.9,317.16 534.4,313.44 534.9,307.24 535.4,305.56 535.9,305.77 536.4,305.77 536.9,305.22 537.4,304.52 537.9,303.88 538.4,303.47 538.9,303.21 539.4,303.22 539.9,303.57 540.4,304.18 540.9,304.89 541.4,305.58 541.9,306.17 542.4,306.31 542.9,306.31 543.4,306.22" fill="none" stroke="#2ea4f5" stroke-width="1.8" stroke-linejoin="round"/>
<polyline points="324.9,222.42 325.4,224.95 325.9,227.49 326.4,230.13 326.9,232.7 327.4,235.26 327.9,237.61 328.4,239.65 328.9,241.71 329.4,243.72 329.9,245.61 330.4,247.47 330.9,249.24 331.4,250.73 331.9,252.15 332.4,253.72 332.9,255.29 333.4,256.85 333.9,258.36 334.4,259.71 334.9,260.93 335.4,262.14 335.9,263.34 336.4,264.54 336.9,265.75 337.4,266.87 337.9,267.87 338.4,268.86 338.9,269.85 339.4,271.23 339.9,272.62 340.4,273.94 340.9,274.9 341.4,275.58 341.9,276.41 342.4,277.47 342.9,278.54 343.4,279.37 343.9,280.01 344.4,280.65 344.9,281.26 345.4,281.8 345.9,282.33 346.4,282.81 346.9,283.28 347.4,283.82 347.9,284.7 348.4,285.59 348.9,286.09 349.4,286.21 349.9,286.31 350.4,286.8 350.9,287.58 351.4,288.38 351.9,288.59 352.4,288.56 352.9,288.42 353.4,288.78 353.9,289.14 354.4,289.41 354.9,289.28 355.4,289.12 355.9,289.47 356.4,290.63 356.9,292.03 357.4,292.77 357.9,292.86 358.4,292.92 358.9,294.06 359.4,295.48 359.9,295.89 360.4,295.23 360.9,294.58 361.4,293.76 361.9,292.27 362.4,291.64 362.9,291.63 363.4,292.22 363.9,292.81 364.4,292.76 364.9,292.27 365.4,291.77 365.9,292.17 366.4,292.79 366.9,293.42 367.4,293.08 367.9,292.83 368.4,292.63 368.9,292.62 369.4,292.61 369.9,292.86 370.4,293.5 370.9,294.15 371.4,294.39 371.9,294.35 372.4,294.3 372.9,295.03 373.4,295.94 373.9,296.87 374.4,297.01 374.9,297.17 375.4,297.4 375.9,297.9 376.4,298.41 376.9,298.79 377.4,298.98 377.9,299.18 378.4,299.36 378.9,299.15 379.4,298.68 379.9,298.44 380.4,298.27 380.9,298.09 381.4,298.33 381.9,298.61 382.4,298.74 382.9,298.2 383.4,297.65 383.9,297.2 384.4,296.89 384.9,296.59 385.4,296.36 385.9,296.19 386.4,296.21 386.9,296.59 387.4,297.03 387.9,297.48 388.4,297.44 388.9,297.4 389.4,297.6 389.9,298.79 390.4,300 390.9,300.31 391.4,299.26 391.9,298.2 392.4,298.03 392.9,298.45 393.4,298.87 393.9,299.52 394.4,300.22 394.9,300.92 395.4,301.7 395.9,302.48 396.4,302.96 396.9,302.7 397.4,302.44 397.9,302.22 398.4,302.05 398.9,301.88 399.4,301.92 399.9,302.1 400.4,302.02 400.9,301.86 401.4,301.73 401.9,301.6 402.4,301.85 402.9,302.11 403.4,302.08 403.9,300.9 404.4,299.72 404.9,299.04 405.4,299.12 405.9,299.2 406.4,298.91 406.9,298.36 407.4,297.8 407.9,297.78 408.4,298.39 408.9,299.32 409.4,299.85 409.9,300.39 410.4,300.74 410.9,300.38 411.4,300 411.9,300.69 412.4,302.41 412.9,303.99 413.4,303.86 413.9,302.56 414.4,301.27 414.9,300.54 415.4,299.95 415.9,299.36 416.4,299.42 416.9,299.6 417.4,299.88 417.9,300.57 418.4,301.25 418.9,301.87 419.4,302.39 419.9,302.91 420.4,305.88 420.9,309.5 421.4,311.24 421.9,309.67 422.4,307.98 422.9,306.29 423.4,305.94 423.9,305.79 424.4,305.38 424.9,303.86 425.4,302.32 425.9,301.41 426.4,301.47 426.9,301.53 427.4,301.22 427.9,300.67 428.4,301.24 428.9,302.73 429.4,304.39 429.9,306.06 430.4,307.24 430.9,308.41 431.4,310.68 431.9,312.24 432.4,312.84 432.9,310.39 433.4,309.1 433.9,307.81 434.4,308.24 434.9,309.04 435.4,309.84 435.9,310.3 436.4,310.68 436.9,311.06 437.4,310.04 437.9,309 438.4,308.42 438.9,309.74 439.4,311.07 439.9,311.92 440.4,311.32 440.9,310.56 441.4,309.57 441.9,308.43 442.4,307.29 442.9,307.84 443.4,308.84 443.9,309.86 444.4,307.05 444.9,304.19 445.4,301.85 445.9,301.68 446.4,302.7 446.9,304.01 447.4,305.28 447.9,306.55 448.4,307.42 448.9,308.02 449.4,308.62 449.9,309.1 450.4,309.15 450.9,309.1 451.4,310.49 451.9,311.89 452.4,317.42 452.9,323.17 453.4,328.92 453.9,334.49 454.4,327.2 454.9,319.9 455.4,312.88 455.9,311.02 456.4,310.4 456.9,309.06 457.4,307.55 457.9,306.02 458.4,305.01 458.9,304.14 459.4,303.96 459.9,306.6 460.4,309.23 460.9,309.82 461.4,307.35 461.9,304.88 462.4,305.4 462.9,307.9 463.4,310.4 463.9,309.42 464.4,307.57 464.9,305.72 465.4,309.2 465.9,313.2 466.4,310.8 466.9,306.8 467.4,305.82 467.9,305.98 468.4,306.87 468.9,307.75 469.4,307.42 469.9,306.26 470.4,305.11 470.9,306.36 471.4,308.21 471.9,310.06 472.4,309.03 472.9,308 473.4,307.12 473.9,306.84 474.4,306.55 474.9,306.15 475.4,308 475.9,313 476.4,318 476.9,313 477.4,308 477.9,306.44 478.4,306.22 478.9,305.99 479.4,307.49 479.9,309.6 480.4,315.6 480.9,314.4 481.4,308.51 481.9,307.27 482.4,305.31 482.9,303.35 483.4,304.02 483.9,306.45 484.4,308.88 484.9,306.91 485.4,303.85 485.9,300.78 486.4,307.5 486.9,311.25 487.4,309 487.9,306.16 488.4,303.47 488.9,302.44 489.4,303.93 489.9,305.41 490.4,306.38 490.9,307.02 491.4,307.66 491.9,307.27 492.4,306.63 492.9,307.67 493.4,310.44 493.9,308.78 494.4,306 494.9,305.78 495.4,307.61 495.9,307.77 496.4,305.4 496.9,303.03 497.4,311.35 497.9,320.25 498.4,322.04 498.9,313.13 499.4,306.81 499.9,309.04 500.4,307.28 500.9,305.51 501.4,304.27 501.9,305.15 502.4,306.02 502.9,306.72 503.4,308 503.9,309.5 504.4,307.35 504.9,306.63 505.4,305.91 505.9,306.01 506.4,306.31 506.9,306.61 507.4,306.49 507.9,306.36 508.4,306.28 508.9,306.35 509.4,306.43 509.9,306.78 510.4,307.54 510.9,308.31 511.4,308.8 511.9,312.3 512.4,310.2 512.9,307.67 513.4,307.19 513.9,306.71 514.4,307.18 514.9,307.65 515.4,307.79 515.9,306.64 516.4,305.5 516.9,304.74 517.4,304.56 517.9,304.39 518.4,304.21 518.9,304.02 519.4,303.83 519.9,304.92 520.4,306.32 520.9,307.73 521.4,308.39 521.9,309.05 522.4,312.04 522.9,312.79 523.4,309.02 523.9,305.54 524.4,303.92 524.9,302.3 525.4,302.34 525.9,303.49 526.4,304.65 526.9,305.49 527.4,307.75 527.9,312.12 528.4,309.5 528.9,306.76 529.4,306.62 529.9,306.46 530.4,306.3 530.9,306.49 531.4,307.19 531.9,307.89 532.4,308.15 532.9,308.1 533.4,310.96 533.9,317.16 534.4,313.44 534.9,307.24 535.4,304.45 535.9,305.84 536.4,306.77 536.9,305.85 537.4,304.93 537.9,304.68 538.4,305.44 538.9,306.21 539.4,306.99 539.9,307.78 540.4,309.58 540.9,315.54 541.4,321.51 541.9,317.93 542.4,311.96 542.9,308.25 543.4,307.35" fill="none" stroke="#00dd00" stroke-width="1.8" stroke-linejoin="round"/>
</g>
<rect x="325" y="207" width="218.8" height="153.5" fill="none" stroke="#000" stroke-width="1.45"/>
<line x1="373.62" y1="360.5" x2="373.62" y2="357" stroke="#000" stroke-width="1"/>
<line x1="373.62" y1="207" x2="373.62" y2="210.5" stroke="#000" stroke-width="1"/>
<line x1="422.24" y1="360.5" x2="422.24" y2="357" stroke="#000" stroke-width="1"/>
<line x1="422.24" y1="207" x2="422.24" y2="210.5" stroke="#000" stroke-width="1"/>
<line x1="470.87" y1="360.5" x2="470.87" y2="357" stroke="#000" stroke-width="1"/>
<line x1="470.87" y1="207" x2="470.87" y2="210.5" stroke="#000" stroke-width="1"/>
<line x1="519.49" y1="360.5" x2="519.49" y2="357" stroke="#000" stroke-width="1"/>
<line x1="519.49" y1="207" x2="519.49" y2="210.5" stroke="#000" stroke-width="1"/>
<line x1="349.31" y1="360.5" x2="349.31" y2="358.5" stroke="#000" stroke-width="1"/>
<line x1="349.31" y1="207" x2="349.31" y2="209" stroke="#000" stroke-width="1"/>
<line x1="397.93" y1="360.5" x2="397.93" y2="358.5" stroke="#000" stroke-width="1"/>
<line x1="397.93" y1="207" x2="397.93" y2="209" stroke="#000" stroke-width="1"/>
<line x1="446.56" y1="360.5" x2="446.56" y2="358.5" stroke="#000" stroke-width="1"/>
<line x1="446.56" y1="207" x2="446.56" y2="209" stroke="#000" stroke-width="1"/>
<line x1="495.18" y1="360.5" x2="495.18" y2="358.5" stroke="#000" stroke-width="1"/>
<line x1="495.18" y1="207" x2="495.18" y2="209" stroke="#000" stroke-width="1"/>
<line x1="543.8" y1="360.5" x2="543.8" y2="358.5" stroke="#000" stroke-width="1"/>
<line x1="543.8" y1="207" x2="543.8" y2="209" stroke="#000" stroke-width="1"/>
<line x1="325" y1="329.8" x2="328.5" y2="329.8" stroke="#000" stroke-width="1"/>
<line x1="543.8" y1="329.8" x2="540.3" y2="329.8" stroke="#000" stroke-width="1"/>
<line x1="325" y1="299.1" x2="328.5" y2="299.1" stroke="#000" stroke-width="1"/>
<line x1="543.8" y1="299.1" x2="540.3" y2="299.1" stroke="#000" stroke-width="1"/>
<line x1="325" y1="268.4" x2="328.5" y2="268.4" stroke="#000" stroke-width="1"/>
<line x1="543.8" y1="268.4" x2="540.3" y2="268.4" stroke="#000" stroke-width="1"/>
<line x1="325" y1="237.7" x2="328.5" y2="237.7" stroke="#000" stroke-width="1"/>
<line x1="543.8" y1="237.7" x2="540.3" y2="237.7" stroke="#000" stroke-width="1"/>
<line x1="325" y1="207" x2="328.5" y2="207" stroke="#000" stroke-width="1"/>
<line x1="543.8" y1="207" x2="540.3" y2="207" stroke="#000" stroke-width="1"/>
<line x1="325" y1="345.15" x2="327" y2="345.15" stroke="#000" stroke-width="1"/>
<line x1="543.8" y1="345.15" x2="541.8" y2="345.15" stroke="#000" stroke-width="1"/>
<line x1="325" y1="314.45" x2="327" y2="314.45" stroke="#000" stroke-width="1"/>
<line x1="543.8" y1="314.45" x2="541.8" y2="314.45" stroke="#000" stroke-width="1"/>
<line x1="325" y1="283.75" x2="327" y2="283.75" stroke="#000" stroke-width="1"/>
<line x1="543.8" y1="283.75" x2="541.8" y2="283.75" stroke="#000" stroke-width="1"/>
<line x1="325" y1="253.05" x2="327" y2="253.05" stroke="#000" stroke-width="1"/>
<line x1="543.8" y1="253.05" x2="541.8" y2="253.05" stroke="#000" stroke-width="1"/>
<line x1="325" y1="222.35" x2="327" y2="222.35" stroke="#000" stroke-width="1"/>
<line x1="543.8" y1="222.35" x2="541.8" y2="222.35" stroke="#000" stroke-width="1"/>
<text transform="translate(311 365) scale(1 1.0)" font-size="14.5" text-anchor="middle" font-family="'Liberation Serif', 'Times New Roman', serif">−20</text>
<text transform="translate(311 334.3) scale(1 1.0)" font-size="14.5" text-anchor="middle" font-family="'Liberation Serif', 'Times New Roman', serif">0</text>
<text transform="translate(311 303.6) scale(1 1.0)" font-size="14.5" text-anchor="middle" font-family="'Liberation Serif', 'Times New Roman', serif">20</text>
<text transform="translate(311 272.9) scale(1 1.0)" font-size="14.5" text-anchor="middle" font-family="'Liberation Serif', 'Times New Roman', serif">40</text>
<text transform="translate(311 242.2) scale(1 1.0)" font-size="14.5" text-anchor="middle" font-family="'Liberation Serif', 'Times New Roman', serif">60</text>
<text transform="translate(311 211.5) scale(1 1.0)" font-size="14.5" text-anchor="middle" font-family="'Liberation Serif', 'Times New Roman', serif">80</text>
<text transform="translate(325 374.6) scale(1 1.0)" font-size="12" text-anchor="middle" font-family="'Liberation Sans', Arial, sans-serif">0.0</text>
<text transform="translate(373.62 374.6) scale(1 1.0)" font-size="12" text-anchor="middle" font-family="'Liberation Sans', Arial, sans-serif">0.2</text>
<text transform="translate(422.24 374.6) scale(1 1.0)" font-size="12" text-anchor="middle" font-family="'Liberation Sans', Arial, sans-serif">0.4</text>
<text transform="translate(470.87 374.6) scale(1 1.0)" font-size="12" text-anchor="middle" font-family="'Liberation Sans', Arial, sans-serif">0.6</text>
<text transform="translate(519.49 374.6) scale(1 1.0)" font-size="12" text-anchor="middle" font-family="'Liberation Sans', Arial, sans-serif">0.8</text>
<text transform="translate(434.8 389.8) scale(1 1.0)" font-size="15.3" text-anchor="middle" font-family="'Liberation Sans', Arial, sans-serif">Frequency (GHz)</text>
<text transform="translate(294.5 283) rotate(-90)" font-size="13.5" text-anchor="middle" font-family="'Liberation Serif', 'Times New Roman', serif">dB</text>
<text transform="translate(331.4 221.8) scale(1 1.0)" font-size="14" text-anchor="start" font-family="'Liberation Sans', Arial, sans-serif">(d)</text>
<line x1="345.2" y1="229.9" x2="359" y2="229.9" stroke="#2ea4f5" stroke-width="1.6"/>
<text transform="translate(361.7 233.3) scale(1 1.0)" font-size="9.8" text-anchor="start" font-family="'Liberation Sans', Arial, sans-serif">DFT of raw data of Raman signal</text>
<line x1="345.2" y1="241.9" x2="359" y2="241.9" stroke="#00dd00" stroke-width="1.6"/>
<text transform="translate(361.7 245.3) scale(1 1.0)" font-size="9.8" text-anchor="start" font-family="'Liberation Sans', Arial, sans-serif">DFT of corrected data of Raman signal</text>
</svg>
</svg>
</body></html>
